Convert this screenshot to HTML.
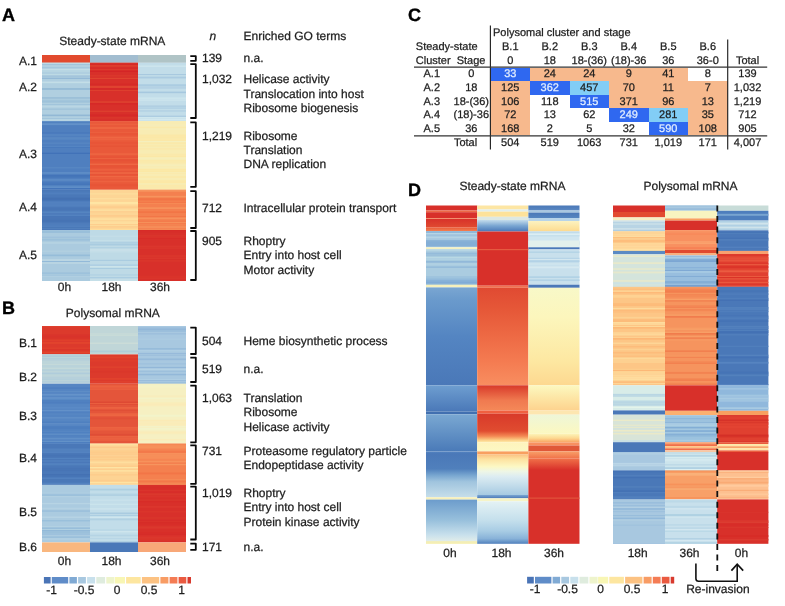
<!DOCTYPE html>
<html><head><meta charset="utf-8"><style>
html,body{margin:0;padding:0;background:#fff;}
body{width:785px;height:606px;overflow:hidden;}
svg{display:block;font-family:"Liberation Sans",sans-serif;-webkit-font-smoothing:antialiased;will-change:transform;filter:blur(0.3px);}
text{text-rendering:geometricPrecision;}
</style></head><body>
<svg width="785" height="606" viewBox="0 0 785 606">
<defs><linearGradient id="g1" x1="0" y1="0" x2="0" y2="1"><stop offset="0.000" stop-color="#d8322a"/><stop offset="1.000" stop-color="#e04a30"/></linearGradient>
<linearGradient id="g2" x1="0" y1="0" x2="0" y2="1"><stop offset="0.000" stop-color="#e85a38"/><stop offset="1.000" stop-color="#f47e50"/></linearGradient>
<linearGradient id="g3" x1="0" y1="0" x2="0" y2="1"><stop offset="0.000" stop-color="#7aa6d2"/><stop offset="0.130" stop-color="#6a9acc"/><stop offset="0.500" stop-color="#5485c2"/><stop offset="1.000" stop-color="#4a78b8"/></linearGradient>
<linearGradient id="g4" x1="0" y1="0" x2="0" y2="1"><stop offset="0.000" stop-color="#6e9ed0"/><stop offset="1.000" stop-color="#4a78b8"/></linearGradient>
<linearGradient id="g5" x1="0" y1="0" x2="0" y2="1"><stop offset="0.000" stop-color="#7aa8d2"/><stop offset="1.000" stop-color="#4a7ab8"/></linearGradient>
<linearGradient id="g6" x1="0" y1="0" x2="0" y2="1"><stop offset="0.000" stop-color="#5484c0"/><stop offset="0.050" stop-color="#4a78b8"/><stop offset="0.380" stop-color="#5080bc"/><stop offset="0.520" stop-color="#78a6d0"/><stop offset="0.660" stop-color="#a0c4de"/><stop offset="1.000" stop-color="#c6deea"/></linearGradient>
<linearGradient id="g7" x1="0" y1="0" x2="0" y2="1"><stop offset="0.000" stop-color="#6c9ccc"/><stop offset="0.500" stop-color="#98c0dc"/><stop offset="0.850" stop-color="#c8e0ec"/><stop offset="1.000" stop-color="#e0ecea"/></linearGradient>
<linearGradient id="g8" x1="0" y1="0" x2="0" y2="1"><stop offset="0.000" stop-color="#f0eec0"/><stop offset="1.000" stop-color="#f6eeaa"/></linearGradient>
<linearGradient id="g9" x1="0" y1="0" x2="0" y2="1"><stop offset="0.000" stop-color="#c4dcec"/><stop offset="0.500" stop-color="#7aa6d2"/><stop offset="1.000" stop-color="#4a78b8"/></linearGradient>
<linearGradient id="g10" x1="0" y1="0" x2="0" y2="1"><stop offset="0.000" stop-color="#e04a32"/><stop offset="0.230" stop-color="#e65838"/><stop offset="0.740" stop-color="#f47a50"/><stop offset="1.000" stop-color="#f88e60"/></linearGradient>
<linearGradient id="g11" x1="0" y1="0" x2="0" y2="1"><stop offset="0.000" stop-color="#d83a2a"/><stop offset="0.600" stop-color="#f07a50"/><stop offset="1.000" stop-color="#f48858"/></linearGradient>
<linearGradient id="g12" x1="0" y1="0" x2="0" y2="1"><stop offset="0.000" stop-color="#d83a2a"/><stop offset="1.000" stop-color="#e04c30"/></linearGradient>
<linearGradient id="g13" x1="0" y1="0" x2="0" y2="1"><stop offset="0.000" stop-color="#e04c30"/><stop offset="0.450" stop-color="#f48a55"/><stop offset="0.750" stop-color="#fbc880"/><stop offset="1.000" stop-color="#fef0b0"/></linearGradient>
<linearGradient id="g14" x1="0" y1="0" x2="0" y2="1"><stop offset="0.000" stop-color="#fef4bc"/><stop offset="1.000" stop-color="#fcf8c4"/></linearGradient>
<linearGradient id="g15" x1="0" y1="0" x2="0" y2="1"><stop offset="0.000" stop-color="#fbc080"/><stop offset="0.120" stop-color="#fde2a0"/><stop offset="0.300" stop-color="#fcf8c4"/><stop offset="0.420" stop-color="#eef6e6"/><stop offset="0.550" stop-color="#dcecf2"/><stop offset="1.000" stop-color="#a6cae2"/></linearGradient>
<linearGradient id="g16" x1="0" y1="0" x2="0" y2="1"><stop offset="0.000" stop-color="#7aa6d2"/><stop offset="1.000" stop-color="#4a78b8"/></linearGradient>
<linearGradient id="g17" x1="0" y1="0" x2="0" y2="1"><stop offset="0.000" stop-color="#e4f2f4"/><stop offset="0.450" stop-color="#c4dfec"/><stop offset="0.700" stop-color="#a8cce4"/><stop offset="0.880" stop-color="#88b2d8"/><stop offset="1.000" stop-color="#5080bc"/></linearGradient>
<linearGradient id="g18" x1="0" y1="0" x2="0" y2="1"><stop offset="0.000" stop-color="#4a78b8"/><stop offset="1.000" stop-color="#5a88c2"/></linearGradient>
<linearGradient id="g19" x1="0" y1="0" x2="0" y2="1"><stop offset="0.000" stop-color="#4a78b8"/><stop offset="1.000" stop-color="#5686c0"/></linearGradient>
<linearGradient id="g20" x1="0" y1="0" x2="0" y2="1"><stop offset="0.000" stop-color="#fcf2c0"/><stop offset="0.700" stop-color="#fde29c"/><stop offset="1.000" stop-color="#fdd890"/></linearGradient>
<linearGradient id="g21" x1="0" y1="0" x2="0" y2="1"><stop offset="0.000" stop-color="#f8f8c8"/><stop offset="0.300" stop-color="#fcf6bc"/><stop offset="0.740" stop-color="#fde8a2"/><stop offset="1.000" stop-color="#fdd890"/></linearGradient>
<linearGradient id="g22" x1="0" y1="0" x2="0" y2="1"><stop offset="0.000" stop-color="#fcf8c0"/><stop offset="0.600" stop-color="#fde2a0"/><stop offset="1.000" stop-color="#fdd28e"/></linearGradient>
<linearGradient id="g23" x1="0" y1="0" x2="0" y2="1"><stop offset="0.000" stop-color="#eef6d8"/><stop offset="1.000" stop-color="#fcf8c0"/></linearGradient>
<linearGradient id="g24" x1="0" y1="0" x2="0" y2="1"><stop offset="0.000" stop-color="#fcf4b8"/><stop offset="0.500" stop-color="#fdd890"/><stop offset="1.000" stop-color="#f8a060"/></linearGradient>
<linearGradient id="g25" x1="0" y1="0" x2="0" y2="1"><stop offset="0.000" stop-color="#f8a068"/><stop offset="1.000" stop-color="#f07048"/></linearGradient>
<linearGradient id="g26" x1="0" y1="0" x2="0" y2="1"><stop offset="0.000" stop-color="#f07048"/><stop offset="1.000" stop-color="#d8302a"/></linearGradient></defs>
<rect width="785" height="606" fill="#fff"/>
<rect x="42.00" y="55.00" width="48.00" height="7.80" fill="#e24a2e"/>
<rect x="90.00" y="55.00" width="48.00" height="7.80" fill="#a2bdd0"/>
<rect x="138.00" y="55.00" width="48.00" height="7.80" fill="#b0c4c6"/>
<rect x="42.00" y="62.80" width="48.00" height="58.25" fill="#b0cfe0"/>
<rect x="42.00" y="62.80" width="48.00" height="1.19" fill="#bfdbe6"/>
<rect x="42.00" y="63.99" width="48.00" height="1.44" fill="#a2c4db"/>
<rect x="42.00" y="65.43" width="48.00" height="0.84" fill="#b9d6e3"/>
<rect x="42.00" y="67.59" width="48.00" height="0.95" fill="#97bcd7"/>
<rect x="42.00" y="68.53" width="48.00" height="1.49" fill="#c3dee7"/>
<rect x="42.00" y="70.03" width="48.00" height="1.83" fill="#b9d6e3"/>
<rect x="42.00" y="74.04" width="48.00" height="1.57" fill="#bedae5"/>
<rect x="42.00" y="75.61" width="48.00" height="0.87" fill="#96bbd6"/>
<rect x="42.00" y="77.66" width="48.00" height="1.34" fill="#94b9d6"/>
<rect x="42.00" y="81.53" width="48.00" height="1.68" fill="#c3dee7"/>
<rect x="42.00" y="88.05" width="48.00" height="1.85" fill="#96bbd6"/>
<rect x="42.00" y="97.02" width="48.00" height="1.79" fill="#9cbfd8"/>
<rect x="42.00" y="99.64" width="48.00" height="1.00" fill="#a2c4db"/>
<rect x="42.00" y="100.64" width="48.00" height="0.96" fill="#9cbfd8"/>
<rect x="42.00" y="101.59" width="48.00" height="0.90" fill="#98bdd7"/>
<rect x="42.00" y="104.27" width="48.00" height="1.13" fill="#9cc0d9"/>
<rect x="42.00" y="105.41" width="48.00" height="1.95" fill="#bad6e4"/>
<rect x="42.00" y="108.44" width="48.00" height="1.51" fill="#a3c5db"/>
<rect x="42.00" y="114.55" width="48.00" height="1.61" fill="#92b8d5"/>
<rect x="42.00" y="118.01" width="48.00" height="1.27" fill="#a1c4db"/>
<rect x="42.00" y="119.28" width="48.00" height="0.87" fill="#bad7e4"/>
<rect x="42.00" y="120.16" width="48.00" height="0.89" fill="#b8d5e3"/>
<rect x="90.00" y="62.80" width="48.00" height="58.25" fill="#d8302a"/>
<rect x="90.00" y="62.80" width="48.00" height="0.92" fill="#dc392d"/>
<rect x="90.00" y="63.72" width="48.00" height="1.54" fill="#d52928"/>
<rect x="90.00" y="65.26" width="48.00" height="1.24" fill="#e04430"/>
<rect x="90.00" y="67.85" width="48.00" height="0.90" fill="#d52828"/>
<rect x="90.00" y="68.76" width="48.00" height="1.79" fill="#dc392d"/>
<rect x="90.00" y="70.55" width="48.00" height="1.43" fill="#d42627"/>
<rect x="90.00" y="75.26" width="48.00" height="1.11" fill="#dc3b2d"/>
<rect x="90.00" y="77.81" width="48.00" height="1.20" fill="#e04430"/>
<rect x="90.00" y="83.68" width="48.00" height="1.23" fill="#d62a28"/>
<rect x="90.00" y="86.02" width="48.00" height="1.95" fill="#e04531"/>
<rect x="90.00" y="87.97" width="48.00" height="1.95" fill="#d52928"/>
<rect x="90.00" y="89.91" width="48.00" height="1.04" fill="#df412f"/>
<rect x="90.00" y="101.05" width="48.00" height="1.97" fill="#dd3e2e"/>
<rect x="90.00" y="103.01" width="48.00" height="1.67" fill="#d62a28"/>
<rect x="90.00" y="110.74" width="48.00" height="0.96" fill="#e04631"/>
<rect x="90.00" y="114.45" width="48.00" height="1.79" fill="#d52928"/>
<rect x="90.00" y="117.33" width="48.00" height="1.11" fill="#dc3b2d"/>
<rect x="138.00" y="62.80" width="48.00" height="58.25" fill="#c2dde9"/>
<rect x="138.00" y="65.51" width="48.00" height="1.43" fill="#cee6ed"/>
<rect x="138.00" y="74.00" width="48.00" height="1.10" fill="#a8c9df"/>
<rect x="138.00" y="76.57" width="48.00" height="1.89" fill="#abcbe1"/>
<rect x="138.00" y="84.24" width="48.00" height="1.93" fill="#abcce1"/>
<rect x="138.00" y="86.17" width="48.00" height="1.81" fill="#b4d2e4"/>
<rect x="138.00" y="87.98" width="48.00" height="0.89" fill="#b4d3e4"/>
<rect x="138.00" y="91.59" width="48.00" height="1.59" fill="#a6c8df"/>
<rect x="138.00" y="97.51" width="48.00" height="0.99" fill="#cfe7ee"/>
<rect x="138.00" y="98.51" width="48.00" height="1.03" fill="#d1e8ef"/>
<rect x="138.00" y="99.54" width="48.00" height="1.46" fill="#cae3ec"/>
<rect x="138.00" y="105.18" width="48.00" height="0.93" fill="#b5d3e4"/>
<rect x="138.00" y="106.10" width="48.00" height="1.12" fill="#aecee2"/>
<rect x="138.00" y="107.23" width="48.00" height="1.78" fill="#b3d2e4"/>
<rect x="138.00" y="110.50" width="48.00" height="0.91" fill="#a9cae0"/>
<rect x="138.00" y="115.63" width="48.00" height="1.34" fill="#accce1"/>
<rect x="138.00" y="116.98" width="48.00" height="1.12" fill="#cfe7ee"/>
<rect x="138.00" y="118.10" width="48.00" height="0.93" fill="#cae3ec"/>
<rect x="138.00" y="119.03" width="48.00" height="1.17" fill="#d2e9ef"/>
<rect x="138.00" y="120.20" width="48.00" height="0.85" fill="#cde5ed"/>
<rect x="42.00" y="121.05" width="48.00" height="68.75" fill="#4f7fbf"/>
<rect x="42.00" y="121.05" width="48.00" height="1.10" fill="#6291c8"/>
<rect x="42.00" y="123.18" width="48.00" height="1.92" fill="#6392c9"/>
<rect x="42.00" y="132.25" width="48.00" height="1.29" fill="#4979bc"/>
<rect x="42.00" y="134.42" width="48.00" height="1.11" fill="#5989c4"/>
<rect x="42.00" y="137.37" width="48.00" height="1.14" fill="#5c8bc5"/>
<rect x="42.00" y="138.51" width="48.00" height="0.99" fill="#5c8bc5"/>
<rect x="42.00" y="142.56" width="48.00" height="1.17" fill="#5888c3"/>
<rect x="42.00" y="146.14" width="48.00" height="0.81" fill="#5989c4"/>
<rect x="42.00" y="146.95" width="48.00" height="0.85" fill="#4778bb"/>
<rect x="42.00" y="152.66" width="48.00" height="1.27" fill="#4172b8"/>
<rect x="42.00" y="167.26" width="48.00" height="1.08" fill="#5a89c4"/>
<rect x="42.00" y="172.28" width="48.00" height="1.39" fill="#6392c9"/>
<rect x="42.00" y="175.07" width="48.00" height="1.59" fill="#4374b9"/>
<rect x="42.00" y="176.66" width="48.00" height="0.89" fill="#4374b9"/>
<rect x="42.00" y="179.24" width="48.00" height="1.39" fill="#5f8ec7"/>
<rect x="42.00" y="182.35" width="48.00" height="1.57" fill="#4879bc"/>
<rect x="42.00" y="183.93" width="48.00" height="1.69" fill="#4576ba"/>
<rect x="42.00" y="185.62" width="48.00" height="0.87" fill="#6190c8"/>
<rect x="42.00" y="186.49" width="48.00" height="1.61" fill="#5f8ec7"/>
<rect x="42.00" y="188.10" width="48.00" height="1.36" fill="#4273b9"/>
<rect x="90.00" y="121.05" width="48.00" height="68.75" fill="#e9593a"/>
<rect x="90.00" y="123.65" width="48.00" height="1.34" fill="#ec613f"/>
<rect x="90.00" y="127.02" width="48.00" height="1.94" fill="#ee6642"/>
<rect x="90.00" y="131.90" width="48.00" height="1.38" fill="#eb5f3e"/>
<rect x="90.00" y="133.29" width="48.00" height="1.34" fill="#e75537"/>
<rect x="90.00" y="136.61" width="48.00" height="1.81" fill="#ef6743"/>
<rect x="90.00" y="138.41" width="48.00" height="1.88" fill="#ed6240"/>
<rect x="90.00" y="142.30" width="48.00" height="1.23" fill="#e75437"/>
<rect x="90.00" y="145.59" width="48.00" height="1.10" fill="#e65336"/>
<rect x="90.00" y="153.29" width="48.00" height="1.66" fill="#ee6542"/>
<rect x="90.00" y="156.65" width="48.00" height="1.14" fill="#e65135"/>
<rect x="90.00" y="157.80" width="48.00" height="1.37" fill="#ec613f"/>
<rect x="90.00" y="159.16" width="48.00" height="1.97" fill="#e65236"/>
<rect x="90.00" y="161.14" width="48.00" height="1.47" fill="#e75537"/>
<rect x="90.00" y="163.65" width="48.00" height="1.40" fill="#ef6743"/>
<rect x="90.00" y="165.05" width="48.00" height="1.34" fill="#e75537"/>
<rect x="90.00" y="166.39" width="48.00" height="1.21" fill="#e75437"/>
<rect x="90.00" y="169.08" width="48.00" height="1.70" fill="#ed6240"/>
<rect x="90.00" y="170.78" width="48.00" height="1.25" fill="#e75538"/>
<rect x="90.00" y="172.04" width="48.00" height="1.96" fill="#ed6341"/>
<rect x="90.00" y="174.00" width="48.00" height="1.84" fill="#e75437"/>
<rect x="90.00" y="175.83" width="48.00" height="1.28" fill="#ef6743"/>
<rect x="90.00" y="177.11" width="48.00" height="1.85" fill="#eb5f3e"/>
<rect x="90.00" y="180.83" width="48.00" height="1.50" fill="#ed6240"/>
<rect x="90.00" y="184.13" width="48.00" height="1.97" fill="#e75537"/>
<rect x="138.00" y="121.05" width="48.00" height="68.75" fill="#f8ecb3"/>
<rect x="138.00" y="124.33" width="48.00" height="1.57" fill="#f7edb8"/>
<rect x="138.00" y="127.46" width="48.00" height="0.93" fill="#fbe8a7"/>
<rect x="138.00" y="128.40" width="48.00" height="1.27" fill="#f6eeba"/>
<rect x="138.00" y="134.64" width="48.00" height="1.08" fill="#fce7a3"/>
<rect x="138.00" y="135.72" width="48.00" height="1.17" fill="#fbe8a8"/>
<rect x="138.00" y="136.89" width="48.00" height="1.30" fill="#fbe8a6"/>
<rect x="138.00" y="138.19" width="48.00" height="1.07" fill="#fbe9a9"/>
<rect x="138.00" y="139.26" width="48.00" height="1.62" fill="#fce8a5"/>
<rect x="138.00" y="140.88" width="48.00" height="1.41" fill="#f5efbd"/>
<rect x="138.00" y="142.29" width="48.00" height="1.78" fill="#fae9aa"/>
<rect x="138.00" y="145.23" width="48.00" height="1.39" fill="#fae9aa"/>
<rect x="138.00" y="148.22" width="48.00" height="0.98" fill="#fae9aa"/>
<rect x="138.00" y="149.20" width="48.00" height="0.97" fill="#faeaac"/>
<rect x="138.00" y="153.72" width="48.00" height="1.92" fill="#fae9ab"/>
<rect x="138.00" y="155.64" width="48.00" height="1.70" fill="#fbe8a6"/>
<rect x="138.00" y="157.34" width="48.00" height="1.25" fill="#f7eeb8"/>
<rect x="138.00" y="158.58" width="48.00" height="1.14" fill="#f6efbc"/>
<rect x="138.00" y="159.72" width="48.00" height="1.96" fill="#fbe9a9"/>
<rect x="138.00" y="161.68" width="48.00" height="1.79" fill="#faeaac"/>
<rect x="138.00" y="164.71" width="48.00" height="1.03" fill="#f6efbc"/>
<rect x="138.00" y="167.04" width="48.00" height="1.72" fill="#f7edb7"/>
<rect x="138.00" y="168.76" width="48.00" height="1.90" fill="#fce8a5"/>
<rect x="138.00" y="170.66" width="48.00" height="1.21" fill="#fce7a3"/>
<rect x="138.00" y="172.98" width="48.00" height="1.18" fill="#faeaad"/>
<rect x="138.00" y="176.06" width="48.00" height="1.93" fill="#fae9aa"/>
<rect x="138.00" y="179.94" width="48.00" height="1.26" fill="#fbe9a8"/>
<rect x="138.00" y="181.21" width="48.00" height="1.91" fill="#fce8a5"/>
<rect x="138.00" y="184.91" width="48.00" height="1.53" fill="#fbe9a9"/>
<rect x="138.00" y="186.43" width="48.00" height="1.74" fill="#fae9ab"/>
<rect x="138.00" y="188.17" width="48.00" height="1.10" fill="#faeaac"/>
<rect x="42.00" y="189.80" width="48.00" height="40.20" fill="#4a78b8"/>
<rect x="42.00" y="191.66" width="48.00" height="1.12" fill="#4f7ebd"/>
<rect x="42.00" y="192.78" width="48.00" height="1.65" fill="#507fbe"/>
<rect x="42.00" y="197.67" width="48.00" height="1.60" fill="#4471b2"/>
<rect x="42.00" y="199.27" width="48.00" height="1.48" fill="#4471b3"/>
<rect x="42.00" y="200.75" width="48.00" height="1.10" fill="#507fbd"/>
<rect x="42.00" y="201.85" width="48.00" height="1.49" fill="#5281bf"/>
<rect x="42.00" y="203.34" width="48.00" height="1.41" fill="#5584c1"/>
<rect x="42.00" y="204.75" width="48.00" height="1.99" fill="#5281bf"/>
<rect x="42.00" y="208.55" width="48.00" height="0.85" fill="#4774b5"/>
<rect x="42.00" y="211.36" width="48.00" height="1.92" fill="#5585c1"/>
<rect x="42.00" y="214.39" width="48.00" height="1.93" fill="#5382c0"/>
<rect x="42.00" y="216.33" width="48.00" height="1.06" fill="#4774b5"/>
<rect x="42.00" y="218.49" width="48.00" height="1.58" fill="#4775b6"/>
<rect x="42.00" y="220.07" width="48.00" height="1.61" fill="#4673b4"/>
<rect x="42.00" y="223.44" width="48.00" height="0.88" fill="#5281be"/>
<rect x="42.00" y="224.32" width="48.00" height="1.57" fill="#507fbd"/>
<rect x="42.00" y="225.89" width="48.00" height="1.29" fill="#5180be"/>
<rect x="42.00" y="228.35" width="48.00" height="1.23" fill="#5584c1"/>
<rect x="42.00" y="229.58" width="48.00" height="0.42" fill="#4471b3"/>
<rect x="90.00" y="189.80" width="48.00" height="40.20" fill="#fdd595"/>
<rect x="90.00" y="193.20" width="48.00" height="1.35" fill="#fddc9c"/>
<rect x="90.00" y="198.28" width="48.00" height="0.98" fill="#fee1a1"/>
<rect x="90.00" y="201.95" width="48.00" height="1.04" fill="#fee5a5"/>
<rect x="90.00" y="202.98" width="48.00" height="1.38" fill="#fee4a4"/>
<rect x="90.00" y="206.25" width="48.00" height="1.79" fill="#fdcd8d"/>
<rect x="90.00" y="209.32" width="48.00" height="1.80" fill="#fdde9e"/>
<rect x="90.00" y="211.12" width="48.00" height="1.42" fill="#fdd090"/>
<rect x="90.00" y="215.06" width="48.00" height="1.71" fill="#fdcc8c"/>
<rect x="90.00" y="218.29" width="48.00" height="1.55" fill="#fee0a0"/>
<rect x="90.00" y="221.15" width="48.00" height="1.34" fill="#fddc9c"/>
<rect x="90.00" y="222.49" width="48.00" height="1.39" fill="#fee3a3"/>
<rect x="90.00" y="223.88" width="48.00" height="1.35" fill="#fdce8e"/>
<rect x="90.00" y="225.23" width="48.00" height="0.95" fill="#fddc9c"/>
<rect x="90.00" y="226.18" width="48.00" height="1.41" fill="#fdcd8d"/>
<rect x="90.00" y="229.27" width="48.00" height="0.73" fill="#fee0a0"/>
<rect x="138.00" y="189.80" width="48.00" height="40.20" fill="#f4804f"/>
<rect x="138.00" y="189.80" width="48.00" height="1.94" fill="#f7945e"/>
<rect x="138.00" y="195.84" width="48.00" height="1.90" fill="#f7935d"/>
<rect x="138.00" y="197.74" width="48.00" height="0.88" fill="#f27547"/>
<rect x="138.00" y="198.62" width="48.00" height="1.88" fill="#f27446"/>
<rect x="138.00" y="201.90" width="48.00" height="1.05" fill="#f37748"/>
<rect x="138.00" y="202.95" width="48.00" height="0.84" fill="#f68b57"/>
<rect x="138.00" y="207.35" width="48.00" height="1.56" fill="#f7945e"/>
<rect x="138.00" y="211.33" width="48.00" height="1.56" fill="#f27446"/>
<rect x="138.00" y="216.11" width="48.00" height="1.33" fill="#f27547"/>
<rect x="138.00" y="217.44" width="48.00" height="1.78" fill="#f7915c"/>
<rect x="138.00" y="220.73" width="48.00" height="1.18" fill="#f37a4b"/>
<rect x="138.00" y="221.90" width="48.00" height="1.54" fill="#f6905a"/>
<rect x="138.00" y="223.44" width="48.00" height="0.96" fill="#f27547"/>
<rect x="138.00" y="224.40" width="48.00" height="0.80" fill="#f68a56"/>
<rect x="138.00" y="226.27" width="48.00" height="1.51" fill="#f7915c"/>
<rect x="138.00" y="228.74" width="48.00" height="1.09" fill="#f68a56"/>
<rect x="42.00" y="230.00" width="48.00" height="51.00" fill="#abcbdf"/>
<rect x="42.00" y="230.00" width="48.00" height="1.28" fill="#a0c3dc"/>
<rect x="42.00" y="231.28" width="48.00" height="1.47" fill="#95bcd9"/>
<rect x="42.00" y="236.63" width="48.00" height="1.29" fill="#9fc2dc"/>
<rect x="42.00" y="238.73" width="48.00" height="1.93" fill="#9cc1db"/>
<rect x="42.00" y="242.07" width="48.00" height="1.78" fill="#b5d2e2"/>
<rect x="42.00" y="250.64" width="48.00" height="1.07" fill="#b4d1e1"/>
<rect x="42.00" y="254.55" width="48.00" height="1.65" fill="#96bdd9"/>
<rect x="42.00" y="259.06" width="48.00" height="1.96" fill="#bbd6e3"/>
<rect x="42.00" y="261.02" width="48.00" height="1.11" fill="#93bad9"/>
<rect x="42.00" y="262.13" width="48.00" height="1.70" fill="#bbd6e3"/>
<rect x="42.00" y="272.40" width="48.00" height="1.48" fill="#9cc1db"/>
<rect x="42.00" y="274.78" width="48.00" height="0.97" fill="#9ec2db"/>
<rect x="42.00" y="275.75" width="48.00" height="1.21" fill="#b2d0e1"/>
<rect x="90.00" y="230.00" width="48.00" height="51.00" fill="#bedae6"/>
<rect x="90.00" y="235.80" width="48.00" height="0.93" fill="#c5dfe8"/>
<rect x="90.00" y="240.10" width="48.00" height="1.56" fill="#c5dfe8"/>
<rect x="90.00" y="241.66" width="48.00" height="1.71" fill="#afd0e2"/>
<rect x="90.00" y="243.37" width="48.00" height="0.83" fill="#afd0e2"/>
<rect x="90.00" y="244.19" width="48.00" height="1.24" fill="#a5c9df"/>
<rect x="90.00" y="247.26" width="48.00" height="0.84" fill="#adcfe1"/>
<rect x="90.00" y="249.31" width="48.00" height="1.45" fill="#cce3ea"/>
<rect x="90.00" y="250.76" width="48.00" height="1.78" fill="#c4dee8"/>
<rect x="90.00" y="259.80" width="48.00" height="1.14" fill="#a9cce0"/>
<rect x="90.00" y="264.41" width="48.00" height="1.55" fill="#aecfe2"/>
<rect x="90.00" y="265.96" width="48.00" height="1.87" fill="#cce4ea"/>
<rect x="90.00" y="267.83" width="48.00" height="1.05" fill="#a6cae0"/>
<rect x="90.00" y="274.35" width="48.00" height="1.22" fill="#b1d2e3"/>
<rect x="90.00" y="277.17" width="48.00" height="1.00" fill="#a8cbe0"/>
<rect x="90.00" y="279.12" width="48.00" height="1.86" fill="#c6dfe8"/>
<rect x="138.00" y="230.00" width="48.00" height="51.00" fill="#d8302a"/>
<rect x="138.00" y="230.00" width="48.00" height="0.99" fill="#d72d29"/>
<rect x="138.00" y="230.99" width="48.00" height="1.43" fill="#d72d29"/>
<rect x="138.00" y="235.30" width="48.00" height="0.92" fill="#db382d"/>
<rect x="138.00" y="236.23" width="48.00" height="1.68" fill="#da342c"/>
<rect x="138.00" y="237.91" width="48.00" height="0.93" fill="#d72d29"/>
<rect x="138.00" y="245.56" width="48.00" height="1.89" fill="#db362d"/>
<rect x="138.00" y="247.45" width="48.00" height="1.31" fill="#db372d"/>
<rect x="138.00" y="255.05" width="48.00" height="0.92" fill="#db372d"/>
<rect x="138.00" y="255.97" width="48.00" height="1.56" fill="#da362c"/>
<rect x="138.00" y="257.53" width="48.00" height="1.55" fill="#db372d"/>
<rect x="138.00" y="260.09" width="48.00" height="1.73" fill="#da362c"/>
<rect x="138.00" y="275.73" width="48.00" height="1.23" fill="#da352c"/>
<rect x="138.00" y="276.96" width="48.00" height="0.82" fill="#da362c"/>
<rect x="138.00" y="277.78" width="48.00" height="1.22" fill="#da352c"/>
<rect x="42.00" y="326.00" width="48.00" height="28.40" fill="#dc3a2c"/>
<rect x="42.00" y="326.00" width="48.00" height="1.27" fill="#df402d"/>
<rect x="42.00" y="334.48" width="48.00" height="1.36" fill="#d9352b"/>
<rect x="42.00" y="335.84" width="48.00" height="1.80" fill="#d8332b"/>
<rect x="42.00" y="337.64" width="48.00" height="1.25" fill="#d9352b"/>
<rect x="42.00" y="339.70" width="48.00" height="1.14" fill="#e0412d"/>
<rect x="42.00" y="342.15" width="48.00" height="1.59" fill="#e3452e"/>
<rect x="42.00" y="347.47" width="48.00" height="1.56" fill="#df3f2d"/>
<rect x="42.00" y="349.03" width="48.00" height="1.59" fill="#da372b"/>
<rect x="42.00" y="351.69" width="48.00" height="1.22" fill="#e2452e"/>
<rect x="90.00" y="326.00" width="48.00" height="28.40" fill="#c0d6d8"/>
<rect x="90.00" y="333.15" width="48.00" height="1.47" fill="#c7dad8"/>
<rect x="90.00" y="334.61" width="48.00" height="1.39" fill="#c8dbd8"/>
<rect x="90.00" y="342.61" width="48.00" height="1.25" fill="#ccddd8"/>
<rect x="90.00" y="350.49" width="48.00" height="1.88" fill="#afccd8"/>
<rect x="138.00" y="326.00" width="48.00" height="28.40" fill="#a8c8e0"/>
<rect x="138.00" y="327.43" width="48.00" height="1.05" fill="#98bcda"/>
<rect x="138.00" y="328.48" width="48.00" height="1.79" fill="#93b7d8"/>
<rect x="138.00" y="330.28" width="48.00" height="1.40" fill="#97bbda"/>
<rect x="138.00" y="333.27" width="48.00" height="1.20" fill="#9abddb"/>
<rect x="138.00" y="338.74" width="48.00" height="0.86" fill="#aecde2"/>
<rect x="138.00" y="348.16" width="48.00" height="1.62" fill="#95b9d9"/>
<rect x="138.00" y="349.77" width="48.00" height="1.72" fill="#afcee3"/>
<rect x="138.00" y="353.22" width="48.00" height="1.18" fill="#93b7d8"/>
<rect x="42.00" y="354.40" width="48.00" height="29.30" fill="#bdd5da"/>
<rect x="42.00" y="354.40" width="48.00" height="1.47" fill="#b3cfdb"/>
<rect x="42.00" y="355.87" width="48.00" height="1.18" fill="#afccdb"/>
<rect x="42.00" y="357.92" width="48.00" height="0.85" fill="#adcbdc"/>
<rect x="42.00" y="358.77" width="48.00" height="1.90" fill="#b6d0db"/>
<rect x="42.00" y="364.16" width="48.00" height="1.29" fill="#c5dad9"/>
<rect x="42.00" y="365.45" width="48.00" height="0.98" fill="#b6d1db"/>
<rect x="42.00" y="368.29" width="48.00" height="0.95" fill="#c6dbd9"/>
<rect x="42.00" y="369.24" width="48.00" height="1.68" fill="#b5d0db"/>
<rect x="42.00" y="372.58" width="48.00" height="1.68" fill="#afccdb"/>
<rect x="42.00" y="376.71" width="48.00" height="1.66" fill="#b6d0db"/>
<rect x="42.00" y="378.37" width="48.00" height="1.78" fill="#b3cfdb"/>
<rect x="42.00" y="381.15" width="48.00" height="1.38" fill="#b2cedb"/>
<rect x="90.00" y="354.40" width="48.00" height="29.30" fill="#dc3a2c"/>
<rect x="90.00" y="356.61" width="48.00" height="1.56" fill="#e0422e"/>
<rect x="90.00" y="360.10" width="48.00" height="1.48" fill="#df3f2d"/>
<rect x="90.00" y="366.39" width="48.00" height="1.52" fill="#e0422e"/>
<rect x="90.00" y="370.69" width="48.00" height="1.77" fill="#da372b"/>
<rect x="90.00" y="378.17" width="48.00" height="1.49" fill="#e2452e"/>
<rect x="90.00" y="381.28" width="48.00" height="1.22" fill="#e1432e"/>
<rect x="90.00" y="383.53" width="48.00" height="0.17" fill="#e1432e"/>
<rect x="138.00" y="354.40" width="48.00" height="29.30" fill="#a8c8e0"/>
<rect x="138.00" y="354.40" width="48.00" height="1.36" fill="#9bbedb"/>
<rect x="138.00" y="358.41" width="48.00" height="1.73" fill="#96bada"/>
<rect x="138.00" y="363.37" width="48.00" height="1.03" fill="#9cbedc"/>
<rect x="138.00" y="366.92" width="48.00" height="0.98" fill="#90b5d8"/>
<rect x="138.00" y="368.83" width="48.00" height="1.74" fill="#b3d1e4"/>
<rect x="138.00" y="370.57" width="48.00" height="1.42" fill="#9ec0dc"/>
<rect x="138.00" y="373.83" width="48.00" height="1.48" fill="#93b8d9"/>
<rect x="138.00" y="379.03" width="48.00" height="1.10" fill="#afcee3"/>
<rect x="138.00" y="380.14" width="48.00" height="0.90" fill="#97bada"/>
<rect x="138.00" y="382.39" width="48.00" height="1.31" fill="#96bada"/>
<rect x="42.00" y="383.70" width="48.00" height="60.00" fill="#5686c3"/>
<rect x="42.00" y="387.32" width="48.00" height="1.60" fill="#4f80c0"/>
<rect x="42.00" y="390.88" width="48.00" height="1.07" fill="#5f8ec7"/>
<rect x="42.00" y="393.83" width="48.00" height="1.80" fill="#6593ca"/>
<rect x="42.00" y="397.21" width="48.00" height="0.87" fill="#6593ca"/>
<rect x="42.00" y="398.08" width="48.00" height="1.61" fill="#6392c9"/>
<rect x="42.00" y="399.69" width="48.00" height="0.93" fill="#5081c0"/>
<rect x="42.00" y="400.62" width="48.00" height="1.38" fill="#5081c1"/>
<rect x="42.00" y="402.00" width="48.00" height="1.61" fill="#4e7ebf"/>
<rect x="42.00" y="407.36" width="48.00" height="0.97" fill="#5e8dc7"/>
<rect x="42.00" y="410.14" width="48.00" height="1.34" fill="#6594ca"/>
<rect x="42.00" y="411.48" width="48.00" height="1.55" fill="#5181c1"/>
<rect x="42.00" y="415.66" width="48.00" height="1.12" fill="#5181c1"/>
<rect x="42.00" y="416.78" width="48.00" height="1.81" fill="#5f8ec7"/>
<rect x="42.00" y="421.58" width="48.00" height="1.60" fill="#4f80c0"/>
<rect x="42.00" y="423.18" width="48.00" height="1.11" fill="#618fc8"/>
<rect x="42.00" y="426.29" width="48.00" height="0.92" fill="#4c7dbf"/>
<rect x="42.00" y="427.20" width="48.00" height="1.67" fill="#4c7dbe"/>
<rect x="42.00" y="428.88" width="48.00" height="1.77" fill="#5182c1"/>
<rect x="42.00" y="432.44" width="48.00" height="1.02" fill="#4c7dbf"/>
<rect x="42.00" y="433.47" width="48.00" height="1.49" fill="#5f8ec7"/>
<rect x="42.00" y="434.95" width="48.00" height="1.65" fill="#5182c1"/>
<rect x="42.00" y="438.14" width="48.00" height="1.13" fill="#6392c9"/>
<rect x="42.00" y="441.04" width="48.00" height="1.04" fill="#6493c9"/>
<rect x="42.00" y="442.08" width="48.00" height="1.62" fill="#4d7ebf"/>
<rect x="90.00" y="383.70" width="48.00" height="60.00" fill="#e4553a"/>
<rect x="90.00" y="385.51" width="48.00" height="1.39" fill="#ee6643"/>
<rect x="90.00" y="386.90" width="48.00" height="1.85" fill="#e95e3f"/>
<rect x="90.00" y="388.75" width="48.00" height="1.24" fill="#ea6040"/>
<rect x="90.00" y="401.53" width="48.00" height="1.44" fill="#de4a34"/>
<rect x="90.00" y="402.98" width="48.00" height="1.02" fill="#ea5f3f"/>
<rect x="90.00" y="403.99" width="48.00" height="0.84" fill="#df4c35"/>
<rect x="90.00" y="407.14" width="48.00" height="1.64" fill="#ed6543"/>
<rect x="90.00" y="408.79" width="48.00" height="0.85" fill="#eb6141"/>
<rect x="90.00" y="409.64" width="48.00" height="1.14" fill="#e04e36"/>
<rect x="90.00" y="413.26" width="48.00" height="1.70" fill="#ed6542"/>
<rect x="90.00" y="414.96" width="48.00" height="1.27" fill="#ed6542"/>
<rect x="90.00" y="417.50" width="48.00" height="1.73" fill="#e14f37"/>
<rect x="90.00" y="426.91" width="48.00" height="1.10" fill="#ec6341"/>
<rect x="90.00" y="428.01" width="48.00" height="1.44" fill="#eb6140"/>
<rect x="90.00" y="429.45" width="48.00" height="0.82" fill="#ee6743"/>
<rect x="90.00" y="433.97" width="48.00" height="1.86" fill="#df4d36"/>
<rect x="90.00" y="435.83" width="48.00" height="1.61" fill="#eb6241"/>
<rect x="90.00" y="437.45" width="48.00" height="1.55" fill="#eb6241"/>
<rect x="90.00" y="438.99" width="48.00" height="1.94" fill="#ea5f3f"/>
<rect x="138.00" y="383.70" width="48.00" height="60.00" fill="#f6f0c2"/>
<rect x="138.00" y="384.82" width="48.00" height="1.44" fill="#f4f2c6"/>
<rect x="138.00" y="386.26" width="48.00" height="1.15" fill="#f4f2c7"/>
<rect x="138.00" y="395.54" width="48.00" height="1.17" fill="#f9ecba"/>
<rect x="138.00" y="397.97" width="48.00" height="0.81" fill="#f3f4ca"/>
<rect x="138.00" y="402.55" width="48.00" height="0.99" fill="#fbeab4"/>
<rect x="138.00" y="403.54" width="48.00" height="0.87" fill="#faebb8"/>
<rect x="138.00" y="404.42" width="48.00" height="0.93" fill="#fce9b3"/>
<rect x="138.00" y="405.35" width="48.00" height="0.99" fill="#faecb9"/>
<rect x="138.00" y="414.80" width="48.00" height="1.90" fill="#f3f4ca"/>
<rect x="138.00" y="419.81" width="48.00" height="1.49" fill="#fbeab5"/>
<rect x="138.00" y="421.30" width="48.00" height="1.53" fill="#faebb8"/>
<rect x="138.00" y="422.83" width="48.00" height="1.67" fill="#faecb8"/>
<rect x="138.00" y="424.50" width="48.00" height="1.26" fill="#fbeab5"/>
<rect x="138.00" y="425.76" width="48.00" height="1.40" fill="#f4f2c7"/>
<rect x="138.00" y="428.13" width="48.00" height="1.50" fill="#f3f4cb"/>
<rect x="138.00" y="431.44" width="48.00" height="1.95" fill="#faecb8"/>
<rect x="138.00" y="433.39" width="48.00" height="0.81" fill="#faebb7"/>
<rect x="138.00" y="438.98" width="48.00" height="1.62" fill="#faecb9"/>
<rect x="138.00" y="443.43" width="48.00" height="0.27" fill="#faecb8"/>
<rect x="42.00" y="443.70" width="48.00" height="41.20" fill="#4a78b8"/>
<rect x="42.00" y="448.47" width="48.00" height="2.00" fill="#5382bf"/>
<rect x="42.00" y="450.47" width="48.00" height="1.00" fill="#5685c2"/>
<rect x="42.00" y="451.47" width="48.00" height="1.42" fill="#5585c2"/>
<rect x="42.00" y="454.67" width="48.00" height="1.87" fill="#4674b5"/>
<rect x="42.00" y="457.95" width="48.00" height="1.03" fill="#5383c0"/>
<rect x="42.00" y="460.20" width="48.00" height="1.56" fill="#5281bf"/>
<rect x="42.00" y="462.94" width="48.00" height="0.80" fill="#5584c1"/>
<rect x="42.00" y="463.74" width="48.00" height="1.60" fill="#5282bf"/>
<rect x="42.00" y="467.90" width="48.00" height="1.49" fill="#4774b5"/>
<rect x="42.00" y="469.39" width="48.00" height="1.71" fill="#4774b5"/>
<rect x="42.00" y="474.06" width="48.00" height="0.87" fill="#4471b3"/>
<rect x="42.00" y="474.94" width="48.00" height="1.66" fill="#4674b5"/>
<rect x="42.00" y="477.51" width="48.00" height="1.50" fill="#5281bf"/>
<rect x="42.00" y="482.71" width="48.00" height="1.10" fill="#5585c2"/>
<rect x="90.00" y="443.70" width="48.00" height="41.20" fill="#fdd393"/>
<rect x="90.00" y="443.70" width="48.00" height="1.78" fill="#fee1a1"/>
<rect x="90.00" y="446.87" width="48.00" height="1.09" fill="#fdca8a"/>
<rect x="90.00" y="450.52" width="48.00" height="1.09" fill="#fdcc8c"/>
<rect x="90.00" y="451.61" width="48.00" height="1.97" fill="#fdcb8b"/>
<rect x="90.00" y="453.58" width="48.00" height="1.44" fill="#fdcc8c"/>
<rect x="90.00" y="455.96" width="48.00" height="1.22" fill="#fdcd8d"/>
<rect x="90.00" y="457.19" width="48.00" height="1.08" fill="#fdca8a"/>
<rect x="90.00" y="459.26" width="48.00" height="0.91" fill="#fdc989"/>
<rect x="90.00" y="461.50" width="48.00" height="1.77" fill="#fede9e"/>
<rect x="90.00" y="465.57" width="48.00" height="1.41" fill="#fdcc8c"/>
<rect x="90.00" y="466.97" width="48.00" height="1.65" fill="#fee4a4"/>
<rect x="90.00" y="468.62" width="48.00" height="1.24" fill="#fdcb8b"/>
<rect x="90.00" y="469.86" width="48.00" height="1.85" fill="#fee0a0"/>
<rect x="90.00" y="474.10" width="48.00" height="1.48" fill="#fdcc8c"/>
<rect x="90.00" y="479.94" width="48.00" height="1.16" fill="#fdcd8d"/>
<rect x="90.00" y="482.05" width="48.00" height="1.14" fill="#fee4a4"/>
<rect x="138.00" y="443.70" width="48.00" height="41.20" fill="#f4804f"/>
<rect x="138.00" y="443.70" width="48.00" height="0.96" fill="#f58956"/>
<rect x="138.00" y="444.66" width="48.00" height="1.60" fill="#f68e59"/>
<rect x="138.00" y="446.25" width="48.00" height="1.64" fill="#f7945e"/>
<rect x="138.00" y="447.89" width="48.00" height="1.55" fill="#f68a57"/>
<rect x="138.00" y="451.13" width="48.00" height="0.85" fill="#f3794a"/>
<rect x="138.00" y="451.98" width="48.00" height="1.16" fill="#f37a4b"/>
<rect x="138.00" y="453.14" width="48.00" height="1.57" fill="#f7945e"/>
<rect x="138.00" y="454.71" width="48.00" height="1.66" fill="#f68f5a"/>
<rect x="138.00" y="456.37" width="48.00" height="1.22" fill="#f7945e"/>
<rect x="138.00" y="457.59" width="48.00" height="1.14" fill="#f7945e"/>
<rect x="138.00" y="458.73" width="48.00" height="0.86" fill="#f68a57"/>
<rect x="138.00" y="460.64" width="48.00" height="1.70" fill="#f7925c"/>
<rect x="138.00" y="464.04" width="48.00" height="1.14" fill="#f7955f"/>
<rect x="138.00" y="472.51" width="48.00" height="1.91" fill="#f27547"/>
<rect x="138.00" y="479.14" width="48.00" height="1.45" fill="#f58a56"/>
<rect x="138.00" y="480.59" width="48.00" height="1.29" fill="#f37849"/>
<rect x="138.00" y="483.54" width="48.00" height="1.09" fill="#f6905a"/>
<rect x="138.00" y="484.62" width="48.00" height="0.28" fill="#f68d58"/>
<rect x="42.00" y="484.90" width="48.00" height="57.50" fill="#abcbe0"/>
<rect x="42.00" y="492.77" width="48.00" height="0.94" fill="#b5d2e3"/>
<rect x="42.00" y="493.71" width="48.00" height="0.87" fill="#9cc1dc"/>
<rect x="42.00" y="494.58" width="48.00" height="1.34" fill="#9abfdb"/>
<rect x="42.00" y="495.92" width="48.00" height="1.24" fill="#b2d0e2"/>
<rect x="42.00" y="502.95" width="48.00" height="1.32" fill="#b7d4e4"/>
<rect x="42.00" y="507.73" width="48.00" height="1.58" fill="#b4d1e3"/>
<rect x="42.00" y="510.14" width="48.00" height="1.81" fill="#9dc1dc"/>
<rect x="42.00" y="516.57" width="48.00" height="1.19" fill="#bad6e5"/>
<rect x="42.00" y="520.24" width="48.00" height="1.09" fill="#96bdda"/>
<rect x="42.00" y="526.39" width="48.00" height="0.99" fill="#b8d4e4"/>
<rect x="42.00" y="527.38" width="48.00" height="1.63" fill="#98beda"/>
<rect x="42.00" y="529.01" width="48.00" height="0.91" fill="#b6d3e3"/>
<rect x="42.00" y="529.92" width="48.00" height="1.67" fill="#92b9d8"/>
<rect x="42.00" y="531.58" width="48.00" height="1.74" fill="#9bc0db"/>
<rect x="42.00" y="533.33" width="48.00" height="1.42" fill="#9abfdb"/>
<rect x="42.00" y="536.34" width="48.00" height="1.88" fill="#9bc0db"/>
<rect x="42.00" y="538.23" width="48.00" height="1.48" fill="#b4d1e3"/>
<rect x="90.00" y="484.90" width="48.00" height="57.50" fill="#c2dde9"/>
<rect x="90.00" y="488.69" width="48.00" height="1.77" fill="#adcfe1"/>
<rect x="90.00" y="493.57" width="48.00" height="1.58" fill="#b3d2e3"/>
<rect x="90.00" y="495.14" width="48.00" height="0.83" fill="#adcfe1"/>
<rect x="90.00" y="499.42" width="48.00" height="1.48" fill="#c9e2ec"/>
<rect x="90.00" y="503.70" width="48.00" height="1.10" fill="#cde5ed"/>
<rect x="90.00" y="508.20" width="48.00" height="1.51" fill="#cce4ed"/>
<rect x="90.00" y="512.50" width="48.00" height="1.71" fill="#a9cbe0"/>
<rect x="90.00" y="515.13" width="48.00" height="1.27" fill="#a9cce0"/>
<rect x="90.00" y="516.40" width="48.00" height="1.73" fill="#cfe6ee"/>
<rect x="90.00" y="518.13" width="48.00" height="1.08" fill="#b8d6e5"/>
<rect x="90.00" y="519.21" width="48.00" height="1.06" fill="#adcee1"/>
<rect x="90.00" y="529.71" width="48.00" height="0.95" fill="#adcee1"/>
<rect x="90.00" y="530.66" width="48.00" height="1.67" fill="#cee5ed"/>
<rect x="90.00" y="534.72" width="48.00" height="1.61" fill="#b5d4e4"/>
<rect x="90.00" y="538.13" width="48.00" height="0.94" fill="#b6d5e5"/>
<rect x="90.00" y="541.24" width="48.00" height="1.16" fill="#aacce0"/>
<rect x="138.00" y="484.90" width="48.00" height="57.50" fill="#d8302a"/>
<rect x="138.00" y="486.53" width="48.00" height="1.94" fill="#d72d29"/>
<rect x="138.00" y="489.87" width="48.00" height="1.76" fill="#da342c"/>
<rect x="138.00" y="491.63" width="48.00" height="1.62" fill="#d72d29"/>
<rect x="138.00" y="493.24" width="48.00" height="1.81" fill="#db382d"/>
<rect x="138.00" y="495.06" width="48.00" height="0.89" fill="#da352c"/>
<rect x="138.00" y="495.95" width="48.00" height="1.51" fill="#da342c"/>
<rect x="138.00" y="498.82" width="48.00" height="1.27" fill="#d9332b"/>
<rect x="138.00" y="500.08" width="48.00" height="1.20" fill="#da362c"/>
<rect x="138.00" y="501.28" width="48.00" height="0.85" fill="#d62c28"/>
<rect x="138.00" y="505.81" width="48.00" height="1.99" fill="#db362d"/>
<rect x="138.00" y="511.21" width="48.00" height="1.24" fill="#db372d"/>
<rect x="138.00" y="517.23" width="48.00" height="1.56" fill="#da362c"/>
<rect x="138.00" y="518.79" width="48.00" height="0.87" fill="#da352c"/>
<rect x="138.00" y="519.66" width="48.00" height="1.38" fill="#d72d29"/>
<rect x="138.00" y="521.04" width="48.00" height="1.22" fill="#d9332b"/>
<rect x="138.00" y="522.26" width="48.00" height="1.34" fill="#d62c28"/>
<rect x="138.00" y="523.60" width="48.00" height="1.00" fill="#d72d29"/>
<rect x="138.00" y="526.28" width="48.00" height="1.92" fill="#db382d"/>
<rect x="138.00" y="528.20" width="48.00" height="0.90" fill="#db362d"/>
<rect x="138.00" y="532.52" width="48.00" height="1.88" fill="#d72d29"/>
<rect x="138.00" y="534.40" width="48.00" height="1.00" fill="#d62c28"/>
<rect x="138.00" y="535.40" width="48.00" height="1.28" fill="#db362d"/>
<rect x="138.00" y="536.68" width="48.00" height="1.58" fill="#db372d"/>
<rect x="138.00" y="538.25" width="48.00" height="1.52" fill="#db382d"/>
<rect x="138.00" y="539.78" width="48.00" height="1.21" fill="#da342c"/>
<rect x="42.00" y="542.40" width="48.00" height="9.60" fill="#f9b77f"/>
<rect x="90.00" y="542.40" width="48.00" height="9.60" fill="#4a78b8"/>
<rect x="138.00" y="542.40" width="48.00" height="9.60" fill="#f8a878"/>
<rect x="426.00" y="205.50" width="51.20" height="5.00" fill="#d8302a"/>
<rect x="426.00" y="210.50" width="51.20" height="1.70" fill="#ec6a48"/>
<rect x="426.00" y="212.20" width="51.20" height="5.80" fill="#d8302a"/>
<rect x="426.00" y="218.00" width="51.20" height="1.20" fill="#f29070"/>
<rect x="426.00" y="219.00" width="51.20" height="8.30" fill="url(#g1)"/>
<rect x="426.00" y="227.30" width="51.20" height="3.80" fill="url(#g2)"/>
<rect x="426.00" y="231.10" width="51.20" height="16.20" fill="#a6c8e0"/>
<rect x="426.00" y="231.10" width="51.20" height="1.91" fill="#91b8d9"/>
<rect x="426.00" y="233.01" width="51.20" height="1.58" fill="#b7d5e5"/>
<rect x="426.00" y="234.59" width="51.20" height="0.87" fill="#97bcdb"/>
<rect x="426.00" y="236.66" width="51.20" height="1.52" fill="#b4d3e5"/>
<rect x="426.00" y="240.08" width="51.20" height="1.99" fill="#8bb3d7"/>
<rect x="426.00" y="242.07" width="51.20" height="1.19" fill="#b0d0e3"/>
<rect x="426.00" y="243.26" width="51.20" height="1.72" fill="#87b0d6"/>
<rect x="426.00" y="247.30" width="51.20" height="2.10" fill="#f4f0c0"/>
<rect x="426.00" y="249.40" width="51.20" height="35.30" fill="#aacce0"/>
<rect x="426.00" y="249.40" width="51.20" height="1.52" fill="#b7d6e4"/>
<rect x="426.00" y="252.58" width="51.20" height="1.73" fill="#94bbda"/>
<rect x="426.00" y="254.31" width="51.20" height="1.34" fill="#98bedb"/>
<rect x="426.00" y="255.65" width="51.20" height="0.96" fill="#99bfdb"/>
<rect x="426.00" y="256.61" width="51.20" height="1.73" fill="#b9d8e4"/>
<rect x="426.00" y="258.34" width="51.20" height="1.71" fill="#b0d1e2"/>
<rect x="426.00" y="260.92" width="51.20" height="1.47" fill="#92b9d9"/>
<rect x="426.00" y="262.38" width="51.20" height="0.98" fill="#95bbda"/>
<rect x="426.00" y="263.36" width="51.20" height="0.99" fill="#b7d6e4"/>
<rect x="426.00" y="266.34" width="51.20" height="1.56" fill="#94bbda"/>
<rect x="426.00" y="276.28" width="51.20" height="1.07" fill="#9cc1dc"/>
<rect x="426.00" y="277.35" width="51.20" height="1.08" fill="#94bbda"/>
<rect x="426.00" y="281.63" width="51.20" height="1.84" fill="#95bbda"/>
<rect x="426.00" y="283.47" width="51.20" height="1.14" fill="#99bedb"/>
<rect x="426.00" y="241.50" width="51.20" height="5.00" fill="#84aed6"/>
<rect x="426.00" y="277.00" width="51.20" height="7.70" fill="#88b2d8"/>
<rect x="426.00" y="277.00" width="51.20" height="1.84" fill="#9dc3de"/>
<rect x="426.00" y="278.84" width="51.20" height="1.16" fill="#92badb"/>
<rect x="426.00" y="281.79" width="51.20" height="0.92" fill="#7da9d5"/>
<rect x="426.00" y="284.70" width="51.20" height="2.70" fill="#f6f0bc"/>
<rect x="426.00" y="287.40" width="51.20" height="97.90" fill="url(#g3)"/>
<rect x="426.00" y="385.30" width="51.20" height="26.30" fill="url(#g4)"/>
<rect x="426.00" y="411.60" width="51.20" height="2.70" fill="#4270b0"/>
<rect x="426.00" y="414.30" width="51.20" height="37.20" fill="url(#g5)"/>
<rect x="426.00" y="451.50" width="51.20" height="45.80" fill="url(#g6)"/>
<rect x="426.00" y="497.30" width="51.20" height="2.30" fill="#f8f0b8"/>
<rect x="426.00" y="499.60" width="51.20" height="41.40" fill="url(#g7)"/>
<rect x="426.00" y="541.00" width="51.20" height="2.80" fill="url(#g8)"/>
<rect x="477.20" y="205.50" width="51.20" height="4.00" fill="#fde6a4"/>
<rect x="477.20" y="209.50" width="51.20" height="2.10" fill="#e0eeee"/>
<rect x="477.20" y="211.60" width="51.20" height="5.20" fill="#fde29a"/>
<rect x="477.20" y="216.80" width="51.20" height="3.20" fill="#dce8e4"/>
<rect x="477.20" y="220.00" width="51.20" height="11.50" fill="url(#g9)"/>
<rect x="477.20" y="231.50" width="51.20" height="54.20" fill="#d8302a"/>
<rect x="477.20" y="249.00" width="51.20" height="1.20" fill="#e65a40"/>
<rect x="477.20" y="285.70" width="51.20" height="2.10" fill="#f07050"/>
<rect x="477.20" y="287.80" width="51.20" height="97.50" fill="url(#g10)"/>
<rect x="477.20" y="385.30" width="51.20" height="25.20" fill="url(#g11)"/>
<rect x="477.20" y="410.50" width="51.20" height="3.20" fill="#f06040"/>
<rect x="477.20" y="413.70" width="51.20" height="17.30" fill="url(#g12)"/>
<rect x="477.20" y="431.00" width="51.20" height="11.60" fill="url(#g13)"/>
<rect x="477.20" y="442.60" width="51.20" height="8.80" fill="url(#g14)"/>
<rect x="477.20" y="451.40" width="51.20" height="2.90" fill="#f8a060"/>
<rect x="477.20" y="454.30" width="51.20" height="40.70" fill="url(#g15)"/>
<rect x="477.20" y="495.00" width="51.20" height="3.30" fill="url(#g16)"/>
<rect x="477.20" y="498.30" width="51.20" height="3.00" fill="#f6f4c8"/>
<rect x="477.20" y="501.30" width="51.20" height="42.50" fill="url(#g17)"/>
<rect x="528.40" y="205.50" width="51.10" height="5.00" fill="url(#g18)"/>
<rect x="528.40" y="210.50" width="51.10" height="2.10" fill="#a8c8e0"/>
<rect x="528.40" y="212.60" width="51.10" height="5.40" fill="url(#g19)"/>
<rect x="528.40" y="218.00" width="51.10" height="3.00" fill="#b8d4e8"/>
<rect x="528.40" y="221.00" width="51.10" height="10.50" fill="url(#g20)"/>
<rect x="528.40" y="231.50" width="51.10" height="15.80" fill="#d0e6f0"/>
<rect x="528.40" y="231.50" width="51.10" height="1.98" fill="#c1dceb"/>
<rect x="528.40" y="233.48" width="51.10" height="1.63" fill="#dceef4"/>
<rect x="528.40" y="235.10" width="51.10" height="1.32" fill="#c4dfec"/>
<rect x="528.40" y="241.50" width="51.10" height="1.40" fill="#bfdbea"/>
<rect x="528.40" y="242.90" width="51.10" height="1.90" fill="#c1dceb"/>
<rect x="528.40" y="246.66" width="51.10" height="0.64" fill="#d9ecf3"/>
<rect x="528.40" y="240.50" width="51.10" height="6.80" fill="#e2f0ec"/>
<rect x="528.40" y="247.30" width="51.10" height="2.10" fill="#4a78b8"/>
<rect x="528.40" y="249.40" width="51.10" height="35.30" fill="#c8e0ec"/>
<rect x="528.40" y="251.54" width="51.10" height="1.24" fill="#b1d1e5"/>
<rect x="528.40" y="257.71" width="51.10" height="1.28" fill="#b6d4e7"/>
<rect x="528.40" y="258.99" width="51.10" height="1.26" fill="#d3e7ef"/>
<rect x="528.40" y="260.25" width="51.10" height="2.00" fill="#b3d2e6"/>
<rect x="528.40" y="263.35" width="51.10" height="1.25" fill="#d1e6ef"/>
<rect x="528.40" y="266.42" width="51.10" height="1.89" fill="#d6e9f0"/>
<rect x="528.40" y="276.28" width="51.10" height="1.69" fill="#b1d1e5"/>
<rect x="528.40" y="279.40" width="51.10" height="1.61" fill="#b2d2e5"/>
<rect x="528.40" y="284.70" width="51.10" height="3.10" fill="#4a78b8"/>
<rect x="528.40" y="287.80" width="51.10" height="97.50" fill="url(#g21)"/>
<rect x="528.40" y="385.30" width="51.10" height="25.20" fill="url(#g22)"/>
<rect x="528.40" y="410.50" width="51.10" height="4.20" fill="#fde6b0"/>
<rect x="528.40" y="414.70" width="51.10" height="19.10" fill="url(#g23)"/>
<rect x="528.40" y="433.80" width="51.10" height="8.80" fill="url(#g24)"/>
<rect x="528.40" y="442.60" width="51.10" height="2.90" fill="#f89060"/>
<rect x="528.40" y="445.50" width="51.10" height="5.90" fill="#e05838"/>
<rect x="528.40" y="451.40" width="51.10" height="7.30" fill="url(#g25)"/>
<rect x="528.40" y="458.70" width="51.10" height="11.30" fill="url(#g26)"/>
<rect x="528.40" y="470.00" width="51.10" height="73.80" fill="#d8302a"/>
<rect x="528.40" y="497.50" width="51.10" height="1.30" fill="#e0503a"/>
<rect x="613.00" y="205.50" width="52.00" height="6.50" fill="#d8302a"/>
<rect x="613.00" y="212.00" width="52.00" height="5.40" fill="#e24a30"/>
<rect x="613.00" y="217.40" width="52.00" height="3.20" fill="#f6eec4"/>
<rect x="613.00" y="220.60" width="52.00" height="10.80" fill="#b8d4e4"/>
<rect x="613.00" y="220.60" width="52.00" height="1.07" fill="#d7e6ea"/>
<rect x="613.00" y="223.09" width="52.00" height="1.78" fill="#c8dee7"/>
<rect x="613.00" y="228.02" width="52.00" height="1.84" fill="#cce0e8"/>
<rect x="613.00" y="229.86" width="52.00" height="1.54" fill="#afcee2"/>
<rect x="613.00" y="231.40" width="52.00" height="19.50" fill="#fdc888"/>
<rect x="613.00" y="231.40" width="52.00" height="0.92" fill="#fedea1"/>
<rect x="613.00" y="232.32" width="52.00" height="1.34" fill="#fed89a"/>
<rect x="613.00" y="233.67" width="52.00" height="1.63" fill="#fed99c"/>
<rect x="613.00" y="235.30" width="52.00" height="1.71" fill="#fedc9f"/>
<rect x="613.00" y="237.01" width="52.00" height="1.42" fill="#fdbf7d"/>
<rect x="613.00" y="238.44" width="52.00" height="1.26" fill="#fdd597"/>
<rect x="613.00" y="239.69" width="52.00" height="0.87" fill="#fdbb7a"/>
<rect x="613.00" y="240.56" width="52.00" height="1.19" fill="#fdba78"/>
<rect x="613.00" y="243.31" width="52.00" height="1.04" fill="#fedea1"/>
<rect x="613.00" y="244.36" width="52.00" height="1.25" fill="#fed99b"/>
<rect x="613.00" y="245.60" width="52.00" height="1.66" fill="#fed89b"/>
<rect x="613.00" y="247.26" width="52.00" height="1.77" fill="#fed89a"/>
<rect x="613.00" y="249.03" width="52.00" height="1.87" fill="#fee1a4"/>
<rect x="613.00" y="250.90" width="52.00" height="3.40" fill="#5a8ac4"/>
<rect x="613.00" y="254.30" width="52.00" height="32.50" fill="#d4e4dc"/>
<rect x="613.00" y="255.55" width="52.00" height="1.20" fill="#edeac6"/>
<rect x="613.00" y="262.24" width="52.00" height="1.81" fill="#e8e9cb"/>
<rect x="613.00" y="268.39" width="52.00" height="1.28" fill="#ebeac8"/>
<rect x="613.00" y="271.40" width="52.00" height="0.94" fill="#e1e7d1"/>
<rect x="613.00" y="272.34" width="52.00" height="0.92" fill="#edeac7"/>
<rect x="613.00" y="279.95" width="52.00" height="1.85" fill="#e5e8cd"/>
<rect x="613.00" y="282.60" width="52.00" height="1.13" fill="#cae1e5"/>
<rect x="613.00" y="285.56" width="52.00" height="1.24" fill="#cde2e3"/>
<rect x="613.00" y="286.80" width="52.00" height="98.50" fill="#fdc686"/>
<rect x="613.00" y="288.64" width="52.00" height="1.83" fill="#fdbe7e"/>
<rect x="613.00" y="290.47" width="52.00" height="1.44" fill="#fed798"/>
<rect x="613.00" y="291.91" width="52.00" height="1.50" fill="#fdb978"/>
<rect x="613.00" y="295.32" width="52.00" height="0.86" fill="#fed899"/>
<rect x="613.00" y="296.18" width="52.00" height="1.48" fill="#fed495"/>
<rect x="613.00" y="303.25" width="52.00" height="0.87" fill="#fdba79"/>
<rect x="613.00" y="304.12" width="52.00" height="1.84" fill="#fdbb7a"/>
<rect x="613.00" y="307.86" width="52.00" height="1.76" fill="#feda9c"/>
<rect x="613.00" y="309.62" width="52.00" height="1.15" fill="#fdb877"/>
<rect x="613.00" y="310.77" width="52.00" height="1.90" fill="#fdbf7f"/>
<rect x="613.00" y="316.82" width="52.00" height="1.62" fill="#fdd192"/>
<rect x="613.00" y="319.30" width="52.00" height="1.15" fill="#fdbb7a"/>
<rect x="613.00" y="320.45" width="52.00" height="1.47" fill="#fcb877"/>
<rect x="613.00" y="321.92" width="52.00" height="1.81" fill="#fedc9e"/>
<rect x="613.00" y="323.73" width="52.00" height="1.27" fill="#fed697"/>
<rect x="613.00" y="326.07" width="52.00" height="0.91" fill="#fedb9d"/>
<rect x="613.00" y="326.98" width="52.00" height="1.61" fill="#fdb877"/>
<rect x="613.00" y="332.43" width="52.00" height="1.15" fill="#fedb9d"/>
<rect x="613.00" y="333.58" width="52.00" height="1.92" fill="#fed799"/>
<rect x="613.00" y="337.01" width="52.00" height="0.91" fill="#fed495"/>
<rect x="613.00" y="337.92" width="52.00" height="1.81" fill="#fcb877"/>
<rect x="613.00" y="342.47" width="52.00" height="1.59" fill="#fed596"/>
<rect x="613.00" y="346.16" width="52.00" height="1.16" fill="#fdbb7a"/>
<rect x="613.00" y="348.78" width="52.00" height="1.51" fill="#fdd191"/>
<rect x="613.00" y="352.17" width="52.00" height="1.22" fill="#fdba79"/>
<rect x="613.00" y="355.60" width="52.00" height="1.85" fill="#fdbf7e"/>
<rect x="613.00" y="357.45" width="52.00" height="1.85" fill="#fed899"/>
<rect x="613.00" y="359.30" width="52.00" height="0.94" fill="#fdd393"/>
<rect x="613.00" y="360.24" width="52.00" height="1.41" fill="#fdd394"/>
<rect x="613.00" y="361.65" width="52.00" height="1.04" fill="#fdd495"/>
<rect x="613.00" y="368.86" width="52.00" height="0.98" fill="#fdd191"/>
<rect x="613.00" y="369.85" width="52.00" height="1.42" fill="#fcb877"/>
<rect x="613.00" y="371.27" width="52.00" height="1.49" fill="#fed99a"/>
<rect x="613.00" y="372.76" width="52.00" height="1.65" fill="#fdd495"/>
<rect x="613.00" y="374.41" width="52.00" height="1.98" fill="#fed99b"/>
<rect x="613.00" y="376.39" width="52.00" height="1.78" fill="#fedc9e"/>
<rect x="613.00" y="378.17" width="52.00" height="1.91" fill="#fedea0"/>
<rect x="613.00" y="380.08" width="52.00" height="1.29" fill="#fdd495"/>
<rect x="613.00" y="381.37" width="52.00" height="1.61" fill="#fdbd7c"/>
<rect x="613.00" y="382.98" width="52.00" height="1.04" fill="#fed596"/>
<rect x="613.00" y="385.30" width="52.00" height="25.10" fill="#d8ece8"/>
<rect x="613.00" y="393.88" width="52.00" height="1.22" fill="#b9d6e3"/>
<rect x="613.00" y="395.10" width="52.00" height="1.69" fill="#bbd8e4"/>
<rect x="613.00" y="400.48" width="52.00" height="1.51" fill="#bbd8e4"/>
<rect x="613.00" y="401.98" width="52.00" height="1.84" fill="#b9d6e3"/>
<rect x="613.00" y="403.83" width="52.00" height="1.94" fill="#b9d6e3"/>
<rect x="613.00" y="406.87" width="52.00" height="1.08" fill="#e5f5ea"/>
<rect x="613.00" y="410.40" width="52.00" height="4.30" fill="#4a78b8"/>
<rect x="613.00" y="414.70" width="52.00" height="27.50" fill="#d8e4d8"/>
<rect x="613.00" y="419.65" width="52.00" height="1.29" fill="#eceac7"/>
<rect x="613.00" y="424.76" width="52.00" height="0.82" fill="#eeeac5"/>
<rect x="613.00" y="427.10" width="52.00" height="1.20" fill="#e7e8cb"/>
<rect x="613.00" y="428.30" width="52.00" height="1.54" fill="#d1e2de"/>
<rect x="613.00" y="429.85" width="52.00" height="1.64" fill="#eceac7"/>
<rect x="613.00" y="433.28" width="52.00" height="1.02" fill="#f1ebc3"/>
<rect x="613.00" y="440.13" width="52.00" height="1.99" fill="#cae0e4"/>
<rect x="613.00" y="442.11" width="52.00" height="0.09" fill="#e5e8cd"/>
<rect x="613.00" y="442.20" width="52.00" height="9.80" fill="#4a78b8"/>
<rect x="613.00" y="452.00" width="52.00" height="18.60" fill="#a8c8e0"/>
<rect x="613.00" y="453.35" width="52.00" height="1.10" fill="#b4d1e4"/>
<rect x="613.00" y="462.86" width="52.00" height="1.56" fill="#bad6e7"/>
<rect x="613.00" y="464.42" width="52.00" height="1.89" fill="#b8d4e6"/>
<rect x="613.00" y="470.60" width="52.00" height="28.80" fill="#4a78b8"/>
<rect x="613.00" y="470.60" width="52.00" height="1.70" fill="#4573b5"/>
<rect x="613.00" y="475.22" width="52.00" height="1.49" fill="#5280bd"/>
<rect x="613.00" y="476.71" width="52.00" height="1.57" fill="#4371b4"/>
<rect x="613.00" y="486.38" width="52.00" height="1.13" fill="#5482be"/>
<rect x="613.00" y="490.23" width="52.00" height="1.85" fill="#4472b4"/>
<rect x="613.00" y="492.09" width="52.00" height="1.17" fill="#517fbd"/>
<rect x="613.00" y="496.25" width="52.00" height="1.93" fill="#5280bd"/>
<rect x="613.00" y="498.18" width="52.00" height="0.93" fill="#5280bd"/>
<rect x="613.00" y="499.11" width="52.00" height="0.29" fill="#517fbc"/>
<rect x="613.00" y="499.40" width="52.00" height="44.40" fill="#a8c8e0"/>
<rect x="613.00" y="502.30" width="52.00" height="1.18" fill="#95badb"/>
<rect x="613.00" y="504.95" width="52.00" height="1.70" fill="#9abedc"/>
<rect x="613.00" y="506.66" width="52.00" height="1.44" fill="#b2cfe3"/>
<rect x="613.00" y="508.09" width="52.00" height="1.73" fill="#94bada"/>
<rect x="613.00" y="511.04" width="52.00" height="1.12" fill="#9ec1dd"/>
<rect x="613.00" y="515.16" width="52.00" height="0.93" fill="#96bbdb"/>
<rect x="613.00" y="517.65" width="52.00" height="1.73" fill="#92b9da"/>
<rect x="613.00" y="519.38" width="52.00" height="1.21" fill="#b4d0e3"/>
<rect x="613.00" y="524.66" width="52.00" height="0.96" fill="#9ec1dd"/>
<rect x="613.00" y="543.22" width="52.00" height="0.58" fill="#97bcdb"/>
<rect x="665.00" y="205.50" width="52.20" height="5.30" fill="#a8c8e0"/>
<rect x="665.00" y="205.50" width="52.20" height="1.13" fill="#9ec1dd"/>
<rect x="665.00" y="208.24" width="52.20" height="1.76" fill="#98bddb"/>
<rect x="665.00" y="210.00" width="52.20" height="0.80" fill="#b5d1e4"/>
<rect x="665.00" y="210.80" width="52.20" height="7.60" fill="#f8f4c0"/>
<rect x="665.00" y="218.40" width="52.20" height="2.20" fill="#f8a060"/>
<rect x="665.00" y="220.60" width="52.20" height="9.70" fill="#d8302a"/>
<rect x="665.00" y="230.30" width="52.20" height="19.50" fill="#f89060"/>
<rect x="665.00" y="230.30" width="52.20" height="0.97" fill="#f99b68"/>
<rect x="665.00" y="233.58" width="52.20" height="0.93" fill="#f78457"/>
<rect x="665.00" y="241.26" width="52.20" height="1.31" fill="#faa46f"/>
<rect x="665.00" y="242.57" width="52.20" height="1.50" fill="#faa26e"/>
<rect x="665.00" y="247.14" width="52.20" height="1.95" fill="#f78155"/>
<rect x="665.00" y="249.09" width="52.20" height="0.71" fill="#faa16d"/>
<rect x="665.00" y="249.80" width="52.20" height="3.20" fill="#e04a30"/>
<rect x="665.00" y="253.00" width="52.20" height="2.40" fill="#f8b080"/>
<rect x="665.00" y="255.40" width="52.20" height="31.40" fill="#98bede"/>
<rect x="665.00" y="257.05" width="52.20" height="1.21" fill="#abcee6"/>
<rect x="665.00" y="259.29" width="52.20" height="1.42" fill="#7ea8d3"/>
<rect x="665.00" y="260.71" width="52.20" height="1.04" fill="#739fcf"/>
<rect x="665.00" y="267.32" width="52.20" height="0.88" fill="#84add6"/>
<rect x="665.00" y="269.86" width="52.20" height="1.12" fill="#7fa9d4"/>
<rect x="665.00" y="270.98" width="52.20" height="1.99" fill="#a5c9e3"/>
<rect x="665.00" y="275.96" width="52.20" height="0.92" fill="#80aad4"/>
<rect x="665.00" y="281.51" width="52.20" height="0.95" fill="#739fcf"/>
<rect x="665.00" y="282.47" width="52.20" height="1.05" fill="#84add5"/>
<rect x="665.00" y="285.17" width="52.20" height="1.63" fill="#6e9bcd"/>
<rect x="665.00" y="286.80" width="52.20" height="98.50" fill="#f6945e"/>
<rect x="665.00" y="288.57" width="52.20" height="0.96" fill="#f38755"/>
<rect x="665.00" y="289.53" width="52.20" height="1.25" fill="#f27e4e"/>
<rect x="665.00" y="290.79" width="52.20" height="1.36" fill="#f27e4e"/>
<rect x="665.00" y="292.15" width="52.20" height="0.89" fill="#f28150"/>
<rect x="665.00" y="294.41" width="52.20" height="1.05" fill="#f17d4d"/>
<rect x="665.00" y="296.38" width="52.20" height="0.95" fill="#f38452"/>
<rect x="665.00" y="298.90" width="52.20" height="1.33" fill="#f8a067"/>
<rect x="665.00" y="300.23" width="52.20" height="1.36" fill="#f28150"/>
<rect x="665.00" y="305.28" width="52.20" height="1.52" fill="#f38754"/>
<rect x="665.00" y="306.80" width="52.20" height="1.07" fill="#f27f4f"/>
<rect x="665.00" y="309.43" width="52.20" height="0.85" fill="#f17c4d"/>
<rect x="665.00" y="310.28" width="52.20" height="0.85" fill="#f38754"/>
<rect x="665.00" y="314.11" width="52.20" height="1.90" fill="#f79b63"/>
<rect x="665.00" y="316.01" width="52.20" height="1.71" fill="#f17c4d"/>
<rect x="665.00" y="327.72" width="52.20" height="0.89" fill="#f89e66"/>
<rect x="665.00" y="328.61" width="52.20" height="1.28" fill="#f8a067"/>
<rect x="665.00" y="331.68" width="52.20" height="1.35" fill="#f89f66"/>
<rect x="665.00" y="333.03" width="52.20" height="1.31" fill="#f17c4d"/>
<rect x="665.00" y="334.35" width="52.20" height="1.22" fill="#f2804f"/>
<rect x="665.00" y="335.57" width="52.20" height="1.82" fill="#f89d65"/>
<rect x="665.00" y="337.39" width="52.20" height="1.71" fill="#f28251"/>
<rect x="665.00" y="339.10" width="52.20" height="1.72" fill="#f79a63"/>
<rect x="665.00" y="350.32" width="52.20" height="1.66" fill="#f28150"/>
<rect x="665.00" y="355.65" width="52.20" height="1.10" fill="#f89d64"/>
<rect x="665.00" y="356.75" width="52.20" height="0.91" fill="#f17c4d"/>
<rect x="665.00" y="361.39" width="52.20" height="1.70" fill="#f38754"/>
<rect x="665.00" y="363.09" width="52.20" height="0.83" fill="#f27e4e"/>
<rect x="665.00" y="371.93" width="52.20" height="1.96" fill="#f38351"/>
<rect x="665.00" y="378.26" width="52.20" height="0.91" fill="#f38654"/>
<rect x="665.00" y="379.16" width="52.20" height="0.82" fill="#f2804f"/>
<rect x="665.00" y="379.98" width="52.20" height="1.01" fill="#f28150"/>
<rect x="665.00" y="382.69" width="52.20" height="1.10" fill="#f48a57"/>
<rect x="665.00" y="383.78" width="52.20" height="1.05" fill="#f17d4d"/>
<rect x="665.00" y="385.30" width="52.20" height="25.50" fill="#d8302a"/>
<rect x="665.00" y="410.80" width="52.20" height="4.40" fill="#fbb070"/>
<rect x="665.00" y="415.20" width="52.20" height="27.00" fill="#9cc2de"/>
<rect x="665.00" y="416.72" width="52.20" height="1.16" fill="#a3c8e1"/>
<rect x="665.00" y="417.88" width="52.20" height="1.23" fill="#8fb8da"/>
<rect x="665.00" y="422.21" width="52.20" height="1.01" fill="#8cb5d8"/>
<rect x="665.00" y="423.22" width="52.20" height="1.63" fill="#aacde3"/>
<rect x="665.00" y="424.85" width="52.20" height="1.92" fill="#abcee3"/>
<rect x="665.00" y="426.77" width="52.20" height="1.79" fill="#83aed5"/>
<rect x="665.00" y="428.56" width="52.20" height="1.60" fill="#a3c7e0"/>
<rect x="665.00" y="430.17" width="52.20" height="1.89" fill="#86b0d6"/>
<rect x="665.00" y="432.05" width="52.20" height="1.59" fill="#a4c9e1"/>
<rect x="665.00" y="433.65" width="52.20" height="1.98" fill="#86b0d6"/>
<rect x="665.00" y="435.63" width="52.20" height="1.07" fill="#91b9da"/>
<rect x="665.00" y="439.85" width="52.20" height="1.10" fill="#a8cce2"/>
<rect x="665.00" y="442.05" width="52.20" height="0.15" fill="#aacee3"/>
<rect x="665.00" y="442.20" width="52.20" height="1.90" fill="#f8a070"/>
<rect x="665.00" y="444.10" width="52.20" height="2.10" fill="#f07048"/>
<rect x="665.00" y="446.20" width="52.20" height="2.10" fill="#fdc080"/>
<rect x="665.00" y="448.30" width="52.20" height="2.10" fill="#f07048"/>
<rect x="665.00" y="450.40" width="52.20" height="2.00" fill="#f6c8a4"/>
<rect x="665.00" y="452.40" width="52.20" height="18.20" fill="#cce4ec"/>
<rect x="665.00" y="452.40" width="52.20" height="1.03" fill="#bad8e6"/>
<rect x="665.00" y="455.00" width="52.20" height="1.84" fill="#b5d5e4"/>
<rect x="665.00" y="456.85" width="52.20" height="1.08" fill="#d7ecf0"/>
<rect x="665.00" y="459.28" width="52.20" height="0.91" fill="#d8ecf0"/>
<rect x="665.00" y="460.19" width="52.20" height="1.08" fill="#d4e9ef"/>
<rect x="665.00" y="464.43" width="52.20" height="0.89" fill="#b4d4e4"/>
<rect x="665.00" y="467.16" width="52.20" height="1.83" fill="#b0d1e3"/>
<rect x="665.00" y="468.99" width="52.20" height="1.09" fill="#dceff1"/>
<rect x="665.00" y="470.07" width="52.20" height="0.53" fill="#b1d2e3"/>
<rect x="665.00" y="470.60" width="52.20" height="28.80" fill="#f8a068"/>
<rect x="665.00" y="470.60" width="52.20" height="1.68" fill="#f7965e"/>
<rect x="665.00" y="473.32" width="52.20" height="1.23" fill="#fab981"/>
<rect x="665.00" y="474.56" width="52.20" height="1.02" fill="#fab47c"/>
<rect x="665.00" y="483.61" width="52.20" height="1.83" fill="#f7925a"/>
<rect x="665.00" y="486.51" width="52.20" height="1.88" fill="#f79860"/>
<rect x="665.00" y="488.39" width="52.20" height="1.33" fill="#f9ad75"/>
<rect x="665.00" y="497.20" width="52.20" height="1.55" fill="#f7925a"/>
<rect x="665.00" y="499.40" width="52.20" height="44.40" fill="#c8e0ec"/>
<rect x="665.00" y="500.47" width="52.20" height="1.19" fill="#b8d6e6"/>
<rect x="665.00" y="501.66" width="52.20" height="0.83" fill="#bbd8e7"/>
<rect x="665.00" y="505.87" width="52.20" height="0.97" fill="#bcd8e7"/>
<rect x="665.00" y="506.83" width="52.20" height="0.98" fill="#b6d5e5"/>
<rect x="665.00" y="507.81" width="52.20" height="1.86" fill="#d0e5ef"/>
<rect x="665.00" y="514.06" width="52.20" height="1.95" fill="#afd1e3"/>
<rect x="665.00" y="516.87" width="52.20" height="0.92" fill="#d1e6ef"/>
<rect x="665.00" y="524.47" width="52.20" height="0.94" fill="#b4d3e4"/>
<rect x="665.00" y="527.17" width="52.20" height="1.95" fill="#bdd9e8"/>
<rect x="665.00" y="529.12" width="52.20" height="1.48" fill="#d5e8f1"/>
<rect x="665.00" y="530.61" width="52.20" height="1.08" fill="#b6d5e5"/>
<rect x="665.00" y="538.16" width="52.20" height="1.58" fill="#afd0e3"/>
<rect x="665.00" y="539.74" width="52.20" height="1.08" fill="#d7e9f2"/>
<rect x="665.00" y="542.11" width="52.20" height="1.69" fill="#b2d3e4"/>
<rect x="717.20" y="205.50" width="51.20" height="5.30" fill="#c8dcd8"/>
<rect x="717.20" y="210.80" width="51.20" height="9.80" fill="#4e7ebd"/>
<rect x="717.20" y="213.80" width="51.20" height="2.00" fill="#78a4d0"/>
<rect x="717.20" y="220.60" width="51.20" height="9.70" fill="#b0d0e4"/>
<rect x="717.20" y="222.60" width="51.20" height="2.00" fill="#d0e4ec"/>
<rect x="717.20" y="226.60" width="51.20" height="1.80" fill="#cfe3ea"/>
<rect x="717.20" y="230.30" width="51.20" height="20.60" fill="#4a78b8"/>
<rect x="717.20" y="231.90" width="51.20" height="0.95" fill="#4674b5"/>
<rect x="717.20" y="232.85" width="51.20" height="0.84" fill="#5280bd"/>
<rect x="717.20" y="237.74" width="51.20" height="1.32" fill="#4573b5"/>
<rect x="717.20" y="239.07" width="51.20" height="1.61" fill="#5280bd"/>
<rect x="717.20" y="246.65" width="51.20" height="1.16" fill="#5583bf"/>
<rect x="717.20" y="249.63" width="51.20" height="1.27" fill="#4f7dbb"/>
<rect x="717.20" y="250.90" width="51.20" height="3.20" fill="#f8a070"/>
<rect x="717.20" y="254.10" width="51.20" height="32.70" fill="#e04030"/>
<rect x="717.20" y="254.10" width="51.20" height="1.67" fill="#dd382b"/>
<rect x="717.20" y="256.78" width="51.20" height="0.80" fill="#e7523b"/>
<rect x="717.20" y="257.58" width="51.20" height="1.98" fill="#e64f39"/>
<rect x="717.20" y="259.57" width="51.20" height="1.96" fill="#e8533c"/>
<rect x="717.20" y="262.72" width="51.20" height="1.37" fill="#dd382b"/>
<rect x="717.20" y="264.09" width="51.20" height="0.99" fill="#ea593f"/>
<rect x="717.20" y="266.20" width="51.20" height="1.67" fill="#db3328"/>
<rect x="717.20" y="269.79" width="51.20" height="0.86" fill="#ea5a40"/>
<rect x="717.20" y="270.65" width="51.20" height="1.66" fill="#eb5c41"/>
<rect x="717.20" y="276.02" width="51.20" height="1.08" fill="#ea5a3f"/>
<rect x="717.20" y="277.10" width="51.20" height="0.97" fill="#da3227"/>
<rect x="717.20" y="278.06" width="51.20" height="1.56" fill="#e7523b"/>
<rect x="717.20" y="281.90" width="51.20" height="1.07" fill="#ea593f"/>
<rect x="717.20" y="284.50" width="51.20" height="1.05" fill="#da3127"/>
<rect x="717.20" y="285.55" width="51.20" height="0.99" fill="#eb5c41"/>
<rect x="717.20" y="286.80" width="51.20" height="98.50" fill="#4a78b8"/>
<rect x="717.20" y="290.60" width="51.20" height="0.91" fill="#4573b5"/>
<rect x="717.20" y="293.42" width="51.20" height="1.35" fill="#507ebc"/>
<rect x="717.20" y="297.86" width="51.20" height="1.73" fill="#507ebc"/>
<rect x="717.20" y="299.59" width="51.20" height="1.38" fill="#4472b4"/>
<rect x="717.20" y="306.97" width="51.20" height="1.54" fill="#5381bd"/>
<rect x="717.20" y="308.51" width="51.20" height="1.13" fill="#5785c0"/>
<rect x="717.20" y="310.60" width="51.20" height="1.54" fill="#507ebc"/>
<rect x="717.20" y="315.68" width="51.20" height="0.86" fill="#4371b4"/>
<rect x="717.20" y="316.55" width="51.20" height="0.93" fill="#507ebc"/>
<rect x="717.20" y="317.47" width="51.20" height="1.80" fill="#507ebc"/>
<rect x="717.20" y="320.58" width="51.20" height="0.95" fill="#4270b3"/>
<rect x="717.20" y="325.88" width="51.20" height="1.52" fill="#5381bd"/>
<rect x="717.20" y="327.41" width="51.20" height="1.68" fill="#517fbc"/>
<rect x="717.20" y="330.02" width="51.20" height="1.21" fill="#517fbc"/>
<rect x="717.20" y="331.22" width="51.20" height="1.99" fill="#4371b4"/>
<rect x="717.20" y="334.22" width="51.20" height="1.21" fill="#5280bd"/>
<rect x="717.20" y="345.73" width="51.20" height="1.25" fill="#517fbc"/>
<rect x="717.20" y="354.68" width="51.20" height="1.78" fill="#5482be"/>
<rect x="717.20" y="356.45" width="51.20" height="1.81" fill="#4472b5"/>
<rect x="717.20" y="361.86" width="51.20" height="1.85" fill="#5684c0"/>
<rect x="717.20" y="371.64" width="51.20" height="1.10" fill="#4573b5"/>
<rect x="717.20" y="372.74" width="51.20" height="1.76" fill="#4775b6"/>
<rect x="717.20" y="374.50" width="51.20" height="1.69" fill="#5381bd"/>
<rect x="717.20" y="384.05" width="51.20" height="1.25" fill="#5482be"/>
<rect x="717.20" y="385.30" width="51.20" height="25.50" fill="#90b8dc"/>
<rect x="717.20" y="388.02" width="51.20" height="1.60" fill="#a0c4e0"/>
<rect x="717.20" y="394.68" width="51.20" height="1.32" fill="#a2c6e1"/>
<rect x="717.20" y="396.00" width="51.20" height="1.75" fill="#9ec2df"/>
<rect x="717.20" y="397.74" width="51.20" height="1.76" fill="#a8cae2"/>
<rect x="717.20" y="399.51" width="51.20" height="1.32" fill="#a5c8e1"/>
<rect x="717.20" y="400.83" width="51.20" height="1.04" fill="#9fc3e0"/>
<rect x="717.20" y="407.26" width="51.20" height="1.75" fill="#a8cae2"/>
<rect x="717.20" y="410.80" width="51.20" height="4.40" fill="#f8a060"/>
<rect x="717.20" y="415.20" width="51.20" height="27.00" fill="#e04030"/>
<rect x="717.20" y="415.20" width="51.20" height="1.05" fill="#d73429"/>
<rect x="717.20" y="419.54" width="51.20" height="1.47" fill="#d63229"/>
<rect x="717.20" y="422.32" width="51.20" height="1.11" fill="#d8352a"/>
<rect x="717.20" y="423.43" width="51.20" height="1.36" fill="#e34432"/>
<rect x="717.20" y="426.46" width="51.20" height="1.08" fill="#e54734"/>
<rect x="717.20" y="434.55" width="51.20" height="1.91" fill="#d42f27"/>
<rect x="717.20" y="436.46" width="51.20" height="0.90" fill="#d53128"/>
<rect x="717.20" y="441.11" width="51.20" height="1.09" fill="#da372b"/>
<rect x="717.20" y="442.20" width="51.20" height="1.90" fill="#e85a3c"/>
<rect x="717.20" y="444.10" width="51.20" height="2.10" fill="#fee6a6"/>
<rect x="717.20" y="446.20" width="51.20" height="2.10" fill="#f8a468"/>
<rect x="717.20" y="448.30" width="51.20" height="2.10" fill="#fee6a6"/>
<rect x="717.20" y="450.40" width="51.20" height="2.00" fill="#ea5e40"/>
<rect x="717.20" y="452.00" width="51.20" height="18.60" fill="#d8302a"/>
<rect x="717.20" y="470.60" width="51.20" height="28.80" fill="#fdc090"/>
<rect x="717.20" y="470.60" width="51.20" height="1.54" fill="#fec89a"/>
<rect x="717.20" y="472.14" width="51.20" height="0.90" fill="#fbb17d"/>
<rect x="717.20" y="476.78" width="51.20" height="1.37" fill="#ffcc9e"/>
<rect x="717.20" y="478.14" width="51.20" height="1.00" fill="#faab76"/>
<rect x="717.20" y="479.14" width="51.20" height="1.28" fill="#faaf7b"/>
<rect x="717.20" y="480.43" width="51.20" height="1.63" fill="#fbb380"/>
<rect x="717.20" y="482.06" width="51.20" height="1.49" fill="#f9a973"/>
<rect x="717.20" y="484.77" width="51.20" height="1.90" fill="#ffca9d"/>
<rect x="717.20" y="489.82" width="51.20" height="0.97" fill="#f9a973"/>
<rect x="717.20" y="493.51" width="51.20" height="1.46" fill="#fec89a"/>
<rect x="717.20" y="496.85" width="51.20" height="0.83" fill="#faae7a"/>
<rect x="717.20" y="499.40" width="51.20" height="44.40" fill="#d8302a"/>
<rect x="717.20" y="511.81" width="51.20" height="0.83" fill="#da362e"/>
<rect x="717.20" y="520.43" width="51.20" height="1.32" fill="#dc3c31"/>
<rect x="717.20" y="521.75" width="51.20" height="1.26" fill="#dc3d32"/>
<rect x="717.20" y="524.53" width="51.20" height="0.85" fill="#d72c28"/>
<rect x="717.20" y="527.02" width="51.20" height="0.93" fill="#da372e"/>
<rect x="717.20" y="535.19" width="51.20" height="1.65" fill="#d72c27"/>
<rect x="717.20" y="538.93" width="51.20" height="1.62" fill="#db3a30"/>
<rect x="43.90" y="577.00" width="6.70" height="6.50" fill="#4a74b6"/>
<rect x="51.80" y="577.00" width="16.40" height="6.50" fill="#5f8cc8"/>
<rect x="69.40" y="577.00" width="7.50" height="6.50" fill="#80aad4"/>
<rect x="78.10" y="577.00" width="7.80" height="6.50" fill="#a8c8e0"/>
<rect x="87.10" y="577.00" width="8.00" height="6.50" fill="#c8e0ec"/>
<rect x="96.30" y="577.00" width="8.80" height="6.50" fill="#dfecde"/>
<rect x="106.30" y="577.00" width="8.10" height="6.50" fill="#eef4cc"/>
<rect x="114.90" y="577.00" width="10.10" height="6.50" fill="#f8f6b4"/>
<rect x="126.10" y="577.00" width="14.60" height="6.50" fill="#fde6a0"/>
<rect x="141.90" y="577.00" width="17.30" height="6.50" fill="#fcc282"/>
<rect x="160.40" y="577.00" width="8.00" height="6.50" fill="#f89c64"/>
<rect x="169.60" y="577.00" width="7.80" height="6.50" fill="#f47c54"/>
<rect x="178.60" y="577.00" width="7.70" height="6.50" fill="#ea5a40"/>
<rect x="187.50" y="577.00" width="3.50" height="6.50" fill="#d83a2e"/>
<rect x="527.10" y="576.80" width="6.70" height="6.70" fill="#4a74b6"/>
<rect x="535.00" y="576.80" width="16.40" height="6.70" fill="#5f8cc8"/>
<rect x="552.60" y="576.80" width="7.50" height="6.70" fill="#80aad4"/>
<rect x="561.30" y="576.80" width="7.80" height="6.70" fill="#a8c8e0"/>
<rect x="570.30" y="576.80" width="8.00" height="6.70" fill="#c8e0ec"/>
<rect x="579.50" y="576.80" width="8.80" height="6.70" fill="#dfecde"/>
<rect x="589.50" y="576.80" width="8.10" height="6.70" fill="#eef4cc"/>
<rect x="598.10" y="576.80" width="10.10" height="6.70" fill="#f8f6b4"/>
<rect x="609.30" y="576.80" width="14.60" height="6.70" fill="#fde6a0"/>
<rect x="625.10" y="576.80" width="17.30" height="6.70" fill="#fcc282"/>
<rect x="643.60" y="576.80" width="8.00" height="6.70" fill="#f89c64"/>
<rect x="652.80" y="576.80" width="7.80" height="6.70" fill="#f47c54"/>
<rect x="661.80" y="576.80" width="7.70" height="6.70" fill="#ea5a40"/>
<rect x="670.70" y="576.80" width="3.50" height="6.70" fill="#d83a2e"/>
<g shape-rendering="crispEdges"><rect x="490.50" y="67.60" width="39.80" height="13.80" fill="#2f68f0"/>
<rect x="530.00" y="67.60" width="39.80" height="13.80" fill="#f7b98d"/>
<rect x="569.50" y="67.60" width="39.80" height="13.80" fill="#f7b98d"/>
<rect x="609.00" y="67.60" width="39.80" height="13.80" fill="#f7b98d"/>
<rect x="648.50" y="67.60" width="39.80" height="13.80" fill="#f7b98d"/>
<rect x="490.50" y="81.10" width="39.80" height="13.80" fill="#f7b98d"/>
<rect x="530.00" y="81.10" width="39.80" height="13.80" fill="#2f68f0"/>
<rect x="569.50" y="81.10" width="39.80" height="13.80" fill="#82cdf6"/>
<rect x="609.00" y="81.10" width="39.80" height="13.80" fill="#f7b98d"/>
<rect x="648.50" y="81.10" width="39.80" height="13.80" fill="#f7b98d"/>
<rect x="688.00" y="81.10" width="39.80" height="13.80" fill="#f7b98d"/>
<rect x="490.50" y="94.60" width="39.80" height="13.80" fill="#f7b98d"/>
<rect x="569.50" y="94.60" width="39.80" height="13.80" fill="#2f68f0"/>
<rect x="609.00" y="94.60" width="39.80" height="13.80" fill="#f7b98d"/>
<rect x="648.50" y="94.60" width="39.80" height="13.80" fill="#f7b98d"/>
<rect x="688.00" y="94.60" width="39.80" height="13.80" fill="#f7b98d"/>
<rect x="490.50" y="108.10" width="39.80" height="13.80" fill="#f7b98d"/>
<rect x="609.00" y="108.10" width="39.80" height="13.80" fill="#2f68f0"/>
<rect x="648.50" y="108.10" width="39.80" height="13.80" fill="#82cdf6"/>
<rect x="688.00" y="108.10" width="39.80" height="13.80" fill="#f7b98d"/>
<rect x="490.50" y="121.60" width="39.80" height="13.80" fill="#f7b98d"/>
<rect x="648.50" y="121.60" width="39.80" height="13.80" fill="#2f68f0"/>
<rect x="688.00" y="121.60" width="39.80" height="13.80" fill="#f7b98d"/></g>
<path d="M190.3 56.2 H195.8 V60.8 H190.3" fill="none" stroke="#0a0a0a" stroke-width="1.8" stroke-linejoin="round"/>
<path d="M190.3 64.2 H195.8 V118.0 H190.3" fill="none" stroke="#0a0a0a" stroke-width="1.8" stroke-linejoin="round"/>
<path d="M190.3 122.3 H195.8 V186.8 H190.3" fill="none" stroke="#0a0a0a" stroke-width="1.8" stroke-linejoin="round"/>
<path d="M190.3 191.2 H195.8 V228.0 H190.3" fill="none" stroke="#0a0a0a" stroke-width="1.8" stroke-linejoin="round"/>
<path d="M190.3 231.0 H195.8 V280.0 H190.3" fill="none" stroke="#0a0a0a" stroke-width="1.8" stroke-linejoin="round"/>
<path d="M190.3 327.6 H195.8 V354.0 H190.3" fill="none" stroke="#0a0a0a" stroke-width="1.8" stroke-linejoin="round"/>
<path d="M190.3 357.6 H195.8 V382.0 H190.3" fill="none" stroke="#0a0a0a" stroke-width="1.8" stroke-linejoin="round"/>
<path d="M190.3 385.6 H195.8 V442.3 H190.3" fill="none" stroke="#0a0a0a" stroke-width="1.8" stroke-linejoin="round"/>
<path d="M190.3 445.3 H195.8 V483.8 H190.3" fill="none" stroke="#0a0a0a" stroke-width="1.8" stroke-linejoin="round"/>
<path d="M190.3 486.6 H195.8 V539.5 H190.3" fill="none" stroke="#0a0a0a" stroke-width="1.8" stroke-linejoin="round"/>
<path d="M190.3 543.6 H195.8 V549.8 H190.3" fill="none" stroke="#0a0a0a" stroke-width="1.8" stroke-linejoin="round"/>
<path d="M490.4 25.5 V149.6" stroke="#222" stroke-width="1.15"/>
<path d="M727.7 39.5 V149.6" stroke="#222" stroke-width="1.15"/>
<path d="M414 67.1 H767.2" stroke="#333" stroke-width="1.3"/>
<path d="M414 135.8 H767.2" stroke="#333" stroke-width="1.3"/>
<path d="M717.3 205.4 V571.2" stroke="#111" stroke-width="1.8" stroke-dasharray="6,4.58"/>
<path d="M695.9 563.5 V578.5 Q695.9 581.2 698.6 581.2 H737.2 V564.8" fill="none" stroke="#111" stroke-width="1.6"/>
<path d="M731.4 570.6 L737.2 564.2 L743.2 570.6" fill="none" stroke="#111" stroke-width="1.7"/>
<text x="2.00" y="20.90" font-size="18" text-anchor="start" font-weight="bold" font-style="normal" fill="#000" stroke="#000" stroke-width="0.35">A</text>
<text x="2.00" y="314.00" font-size="18" text-anchor="start" font-weight="bold" font-style="normal" fill="#000" stroke="#000" stroke-width="0.35">B</text>
<text x="408.00" y="20.90" font-size="18" text-anchor="start" font-weight="bold" font-style="normal" fill="#000" stroke="#000" stroke-width="0.35">C</text>
<text x="408.00" y="195.50" font-size="18" text-anchor="start" font-weight="bold" font-style="normal" fill="#000" stroke="#000" stroke-width="0.35">D</text>
<text x="112.30" y="44.60" font-size="12" text-anchor="middle" font-weight="normal" font-style="normal" fill="#1e1e1e" stroke="#1e1e1e" stroke-width="0.25">Steady-state mRNA</text>
<text x="209.50" y="39.70" font-size="12" text-anchor="start" font-weight="normal" font-style="italic" fill="#1e1e1e" stroke="#1e1e1e" stroke-width="0.25">n</text>
<text x="243.50" y="39.70" font-size="12" text-anchor="start" font-weight="normal" font-style="normal" fill="#1e1e1e" stroke="#1e1e1e" stroke-width="0.25">Enriched GO terms</text>
<text x="19.00" y="64.80" font-size="12" text-anchor="start" font-weight="normal" font-style="normal" fill="#1e1e1e" stroke="#1e1e1e" stroke-width="0.25">A.1</text>
<text x="19.00" y="91.00" font-size="12" text-anchor="start" font-weight="normal" font-style="normal" fill="#1e1e1e" stroke="#1e1e1e" stroke-width="0.25">A.2</text>
<text x="19.00" y="158.00" font-size="12" text-anchor="start" font-weight="normal" font-style="normal" fill="#1e1e1e" stroke="#1e1e1e" stroke-width="0.25">A.3</text>
<text x="19.00" y="210.70" font-size="12" text-anchor="start" font-weight="normal" font-style="normal" fill="#1e1e1e" stroke="#1e1e1e" stroke-width="0.25">A.4</text>
<text x="19.00" y="259.00" font-size="12" text-anchor="start" font-weight="normal" font-style="normal" fill="#1e1e1e" stroke="#1e1e1e" stroke-width="0.25">A.5</text>
<text x="64.50" y="291.00" font-size="12" text-anchor="middle" font-weight="normal" font-style="normal" fill="#1e1e1e" stroke="#1e1e1e" stroke-width="0.25">0h</text>
<text x="111.50" y="291.00" font-size="12" text-anchor="middle" font-weight="normal" font-style="normal" fill="#1e1e1e" stroke="#1e1e1e" stroke-width="0.25">18h</text>
<text x="160.00" y="291.00" font-size="12" text-anchor="middle" font-weight="normal" font-style="normal" fill="#1e1e1e" stroke="#1e1e1e" stroke-width="0.25">36h</text>
<text x="202.00" y="62.10" font-size="12" text-anchor="start" font-weight="normal" font-style="normal" fill="#1e1e1e" stroke="#1e1e1e" stroke-width="0.25">139</text>
<text x="243.50" y="62.10" font-size="12" text-anchor="start" font-weight="normal" font-style="normal" fill="#1e1e1e" stroke="#1e1e1e" stroke-width="0.25">n.a.</text>
<text x="202.00" y="83.20" font-size="12" text-anchor="start" font-weight="normal" font-style="normal" fill="#1e1e1e" stroke="#1e1e1e" stroke-width="0.25">1,032</text>
<text x="243.50" y="83.20" font-size="12" text-anchor="start" font-weight="normal" font-style="normal" fill="#1e1e1e" stroke="#1e1e1e" stroke-width="0.25">Helicase activity</text>
<text x="243.50" y="97.60" font-size="12" text-anchor="start" font-weight="normal" font-style="normal" fill="#1e1e1e" stroke="#1e1e1e" stroke-width="0.25">Translocation into host</text>
<text x="243.50" y="112.00" font-size="12" text-anchor="start" font-weight="normal" font-style="normal" fill="#1e1e1e" stroke="#1e1e1e" stroke-width="0.25">Ribosome biogenesis</text>
<text x="202.00" y="139.50" font-size="12" text-anchor="start" font-weight="normal" font-style="normal" fill="#1e1e1e" stroke="#1e1e1e" stroke-width="0.25">1,219</text>
<text x="243.50" y="139.50" font-size="12" text-anchor="start" font-weight="normal" font-style="normal" fill="#1e1e1e" stroke="#1e1e1e" stroke-width="0.25">Ribosome</text>
<text x="243.50" y="153.90" font-size="12" text-anchor="start" font-weight="normal" font-style="normal" fill="#1e1e1e" stroke="#1e1e1e" stroke-width="0.25">Translation</text>
<text x="243.50" y="168.30" font-size="12" text-anchor="start" font-weight="normal" font-style="normal" fill="#1e1e1e" stroke="#1e1e1e" stroke-width="0.25">DNA replication</text>
<text x="202.00" y="212.40" font-size="12" text-anchor="start" font-weight="normal" font-style="normal" fill="#1e1e1e" stroke="#1e1e1e" stroke-width="0.25">712</text>
<text x="243.50" y="212.40" font-size="12" text-anchor="start" font-weight="normal" font-style="normal" fill="#1e1e1e" stroke="#1e1e1e" stroke-width="0.25">Intracellular protein transport</text>
<text x="202.00" y="244.70" font-size="12" text-anchor="start" font-weight="normal" font-style="normal" fill="#1e1e1e" stroke="#1e1e1e" stroke-width="0.25">905</text>
<text x="243.50" y="244.70" font-size="12" text-anchor="start" font-weight="normal" font-style="normal" fill="#1e1e1e" stroke="#1e1e1e" stroke-width="0.25">Rhoptry</text>
<text x="243.50" y="259.10" font-size="12" text-anchor="start" font-weight="normal" font-style="normal" fill="#1e1e1e" stroke="#1e1e1e" stroke-width="0.25">Entry into host cell</text>
<text x="243.50" y="273.50" font-size="12" text-anchor="start" font-weight="normal" font-style="normal" fill="#1e1e1e" stroke="#1e1e1e" stroke-width="0.25">Motor activity</text>
<text x="112.80" y="316.70" font-size="12" text-anchor="middle" font-weight="normal" font-style="normal" fill="#1e1e1e" stroke="#1e1e1e" stroke-width="0.25">Polysomal mRNA</text>
<text x="19.00" y="347.20" font-size="12" text-anchor="start" font-weight="normal" font-style="normal" fill="#1e1e1e" stroke="#1e1e1e" stroke-width="0.25">B.1</text>
<text x="19.00" y="381.10" font-size="12" text-anchor="start" font-weight="normal" font-style="normal" fill="#1e1e1e" stroke="#1e1e1e" stroke-width="0.25">B.2</text>
<text x="19.00" y="419.50" font-size="12" text-anchor="start" font-weight="normal" font-style="normal" fill="#1e1e1e" stroke="#1e1e1e" stroke-width="0.25">B.3</text>
<text x="19.00" y="462.00" font-size="12" text-anchor="start" font-weight="normal" font-style="normal" fill="#1e1e1e" stroke="#1e1e1e" stroke-width="0.25">B.4</text>
<text x="19.00" y="515.90" font-size="12" text-anchor="start" font-weight="normal" font-style="normal" fill="#1e1e1e" stroke="#1e1e1e" stroke-width="0.25">B.5</text>
<text x="19.00" y="551.00" font-size="12" text-anchor="start" font-weight="normal" font-style="normal" fill="#1e1e1e" stroke="#1e1e1e" stroke-width="0.25">B.6</text>
<text x="64.50" y="564.80" font-size="12" text-anchor="middle" font-weight="normal" font-style="normal" fill="#1e1e1e" stroke="#1e1e1e" stroke-width="0.25">0h</text>
<text x="111.50" y="564.80" font-size="12" text-anchor="middle" font-weight="normal" font-style="normal" fill="#1e1e1e" stroke="#1e1e1e" stroke-width="0.25">18h</text>
<text x="160.00" y="564.80" font-size="12" text-anchor="middle" font-weight="normal" font-style="normal" fill="#1e1e1e" stroke="#1e1e1e" stroke-width="0.25">36h</text>
<text x="202.00" y="345.20" font-size="12" text-anchor="start" font-weight="normal" font-style="normal" fill="#1e1e1e" stroke="#1e1e1e" stroke-width="0.25">504</text>
<text x="243.50" y="345.20" font-size="12" text-anchor="start" font-weight="normal" font-style="normal" fill="#1e1e1e" stroke="#1e1e1e" stroke-width="0.25">Heme biosynthetic process</text>
<text x="202.00" y="373.30" font-size="12" text-anchor="start" font-weight="normal" font-style="normal" fill="#1e1e1e" stroke="#1e1e1e" stroke-width="0.25">519</text>
<text x="243.50" y="373.30" font-size="12" text-anchor="start" font-weight="normal" font-style="normal" fill="#1e1e1e" stroke="#1e1e1e" stroke-width="0.25">n.a.</text>
<text x="202.00" y="401.80" font-size="12" text-anchor="start" font-weight="normal" font-style="normal" fill="#1e1e1e" stroke="#1e1e1e" stroke-width="0.25">1,063</text>
<text x="243.50" y="401.80" font-size="12" text-anchor="start" font-weight="normal" font-style="normal" fill="#1e1e1e" stroke="#1e1e1e" stroke-width="0.25">Translation</text>
<text x="243.50" y="416.20" font-size="12" text-anchor="start" font-weight="normal" font-style="normal" fill="#1e1e1e" stroke="#1e1e1e" stroke-width="0.25">Ribosome</text>
<text x="243.50" y="430.60" font-size="12" text-anchor="start" font-weight="normal" font-style="normal" fill="#1e1e1e" stroke="#1e1e1e" stroke-width="0.25">Helicase activity</text>
<text x="202.00" y="455.00" font-size="12" text-anchor="start" font-weight="normal" font-style="normal" fill="#1e1e1e" stroke="#1e1e1e" stroke-width="0.25">731</text>
<text x="243.50" y="455.00" font-size="12" text-anchor="start" font-weight="normal" font-style="normal" fill="#1e1e1e" stroke="#1e1e1e" stroke-width="0.25">Proteasome regulatory particle</text>
<text x="243.50" y="469.40" font-size="12" text-anchor="start" font-weight="normal" font-style="normal" fill="#1e1e1e" stroke="#1e1e1e" stroke-width="0.25">Endopeptidase activity</text>
<text x="202.00" y="497.00" font-size="12" text-anchor="start" font-weight="normal" font-style="normal" fill="#1e1e1e" stroke="#1e1e1e" stroke-width="0.25">1,019</text>
<text x="243.50" y="497.00" font-size="12" text-anchor="start" font-weight="normal" font-style="normal" fill="#1e1e1e" stroke="#1e1e1e" stroke-width="0.25">Rhoptry</text>
<text x="243.50" y="511.40" font-size="12" text-anchor="start" font-weight="normal" font-style="normal" fill="#1e1e1e" stroke="#1e1e1e" stroke-width="0.25">Entry into host cell</text>
<text x="243.50" y="525.80" font-size="12" text-anchor="start" font-weight="normal" font-style="normal" fill="#1e1e1e" stroke="#1e1e1e" stroke-width="0.25">Protein kinase activity</text>
<text x="202.00" y="550.80" font-size="12" text-anchor="start" font-weight="normal" font-style="normal" fill="#1e1e1e" stroke="#1e1e1e" stroke-width="0.25">171</text>
<text x="243.50" y="550.80" font-size="12" text-anchor="start" font-weight="normal" font-style="normal" fill="#1e1e1e" stroke="#1e1e1e" stroke-width="0.25">n.a.</text>
<text x="51.50" y="593.80" font-size="12" text-anchor="middle" font-weight="normal" font-style="normal" fill="#1e1e1e" stroke="#1e1e1e" stroke-width="0.25">-1</text>
<text x="84.00" y="593.80" font-size="12" text-anchor="middle" font-weight="normal" font-style="normal" fill="#1e1e1e" stroke="#1e1e1e" stroke-width="0.25">-0.5</text>
<text x="117.00" y="593.80" font-size="12" text-anchor="middle" font-weight="normal" font-style="normal" fill="#1e1e1e" stroke="#1e1e1e" stroke-width="0.25">0</text>
<text x="149.00" y="593.80" font-size="12" text-anchor="middle" font-weight="normal" font-style="normal" fill="#1e1e1e" stroke="#1e1e1e" stroke-width="0.25">0.5</text>
<text x="181.50" y="593.80" font-size="12" text-anchor="middle" font-weight="normal" font-style="normal" fill="#1e1e1e" stroke="#1e1e1e" stroke-width="0.25">1</text>
<text x="535.00" y="593.30" font-size="12" text-anchor="middle" font-weight="normal" font-style="normal" fill="#1e1e1e" stroke="#1e1e1e" stroke-width="0.25">-1</text>
<text x="567.50" y="593.30" font-size="12" text-anchor="middle" font-weight="normal" font-style="normal" fill="#1e1e1e" stroke="#1e1e1e" stroke-width="0.25">-0.5</text>
<text x="600.50" y="593.30" font-size="12" text-anchor="middle" font-weight="normal" font-style="normal" fill="#1e1e1e" stroke="#1e1e1e" stroke-width="0.25">0</text>
<text x="632.00" y="593.30" font-size="12" text-anchor="middle" font-weight="normal" font-style="normal" fill="#1e1e1e" stroke="#1e1e1e" stroke-width="0.25">0.5</text>
<text x="665.00" y="593.30" font-size="12" text-anchor="middle" font-weight="normal" font-style="normal" fill="#1e1e1e" stroke="#1e1e1e" stroke-width="0.25">1</text>
<text x="493.00" y="36.20" font-size="11" text-anchor="start" font-weight="normal" font-style="normal" fill="#1e1e1e" stroke="#1e1e1e" stroke-width="0.25">Polysomal cluster and stage</text>
<text x="415.80" y="49.70" font-size="11" text-anchor="start" font-weight="normal" font-style="normal" fill="#1e1e1e" stroke="#1e1e1e" stroke-width="0.25">Steady-state</text>
<text x="415.80" y="63.70" font-size="11" text-anchor="start" font-weight="normal" font-style="normal" fill="#1e1e1e" stroke="#1e1e1e" stroke-width="0.25">Cluster</text>
<text x="471.00" y="63.70" font-size="11" text-anchor="middle" font-weight="normal" font-style="normal" fill="#1e1e1e" stroke="#1e1e1e" stroke-width="0.25">Stage</text>
<text x="510.25" y="49.70" font-size="11" text-anchor="middle" font-weight="normal" font-style="normal" fill="#1e1e1e" stroke="#1e1e1e" stroke-width="0.25">B.1</text>
<text x="510.25" y="63.70" font-size="11" text-anchor="middle" font-weight="normal" font-style="normal" fill="#1e1e1e" stroke="#1e1e1e" stroke-width="0.25">0</text>
<text x="549.75" y="49.70" font-size="11" text-anchor="middle" font-weight="normal" font-style="normal" fill="#1e1e1e" stroke="#1e1e1e" stroke-width="0.25">B.2</text>
<text x="549.75" y="63.70" font-size="11" text-anchor="middle" font-weight="normal" font-style="normal" fill="#1e1e1e" stroke="#1e1e1e" stroke-width="0.25">18</text>
<text x="589.25" y="49.70" font-size="11" text-anchor="middle" font-weight="normal" font-style="normal" fill="#1e1e1e" stroke="#1e1e1e" stroke-width="0.25">B.3</text>
<text x="589.25" y="63.70" font-size="11" text-anchor="middle" font-weight="normal" font-style="normal" fill="#1e1e1e" stroke="#1e1e1e" stroke-width="0.25">18-(36)</text>
<text x="628.75" y="49.70" font-size="11" text-anchor="middle" font-weight="normal" font-style="normal" fill="#1e1e1e" stroke="#1e1e1e" stroke-width="0.25">B.4</text>
<text x="628.75" y="63.70" font-size="11" text-anchor="middle" font-weight="normal" font-style="normal" fill="#1e1e1e" stroke="#1e1e1e" stroke-width="0.25">(18)-36</text>
<text x="668.25" y="49.70" font-size="11" text-anchor="middle" font-weight="normal" font-style="normal" fill="#1e1e1e" stroke="#1e1e1e" stroke-width="0.25">B.5</text>
<text x="668.25" y="63.70" font-size="11" text-anchor="middle" font-weight="normal" font-style="normal" fill="#1e1e1e" stroke="#1e1e1e" stroke-width="0.25">36</text>
<text x="707.75" y="49.70" font-size="11" text-anchor="middle" font-weight="normal" font-style="normal" fill="#1e1e1e" stroke="#1e1e1e" stroke-width="0.25">B.6</text>
<text x="707.75" y="63.70" font-size="11" text-anchor="middle" font-weight="normal" font-style="normal" fill="#1e1e1e" stroke="#1e1e1e" stroke-width="0.25">36-0</text>
<text x="747.50" y="63.70" font-size="11" text-anchor="middle" font-weight="normal" font-style="normal" fill="#1e1e1e" stroke="#1e1e1e" stroke-width="0.25">Total</text>
<text x="431.80" y="77.30" font-size="11" text-anchor="middle" font-weight="normal" font-style="normal" fill="#1e1e1e" stroke="#1e1e1e" stroke-width="0.25">A.1</text>
<text x="471.30" y="77.30" font-size="11" text-anchor="middle" font-weight="normal" font-style="normal" fill="#1e1e1e" stroke="#1e1e1e" stroke-width="0.25">0</text>
<text x="510.25" y="77.30" font-size="11" text-anchor="middle" font-weight="normal" font-style="normal" fill="#e2eeff" stroke="#e2eeff" stroke-width="0.25">33</text>
<text x="549.75" y="77.30" font-size="11" text-anchor="middle" font-weight="normal" font-style="normal" fill="#1e1e1e" stroke="#1e1e1e" stroke-width="0.25">24</text>
<text x="589.25" y="77.30" font-size="11" text-anchor="middle" font-weight="normal" font-style="normal" fill="#1e1e1e" stroke="#1e1e1e" stroke-width="0.25">24</text>
<text x="628.75" y="77.30" font-size="11" text-anchor="middle" font-weight="normal" font-style="normal" fill="#1e1e1e" stroke="#1e1e1e" stroke-width="0.25">9</text>
<text x="668.25" y="77.30" font-size="11" text-anchor="middle" font-weight="normal" font-style="normal" fill="#1e1e1e" stroke="#1e1e1e" stroke-width="0.25">41</text>
<text x="707.75" y="77.30" font-size="11" text-anchor="middle" font-weight="normal" font-style="normal" fill="#1e1e1e" stroke="#1e1e1e" stroke-width="0.25">8</text>
<text x="747.50" y="77.30" font-size="11" text-anchor="middle" font-weight="normal" font-style="normal" fill="#1e1e1e" stroke="#1e1e1e" stroke-width="0.25">139</text>
<text x="431.80" y="91.00" font-size="11" text-anchor="middle" font-weight="normal" font-style="normal" fill="#1e1e1e" stroke="#1e1e1e" stroke-width="0.25">A.2</text>
<text x="471.30" y="91.00" font-size="11" text-anchor="middle" font-weight="normal" font-style="normal" fill="#1e1e1e" stroke="#1e1e1e" stroke-width="0.25">18</text>
<text x="510.25" y="91.00" font-size="11" text-anchor="middle" font-weight="normal" font-style="normal" fill="#1e1e1e" stroke="#1e1e1e" stroke-width="0.25">125</text>
<text x="549.75" y="91.00" font-size="11" text-anchor="middle" font-weight="normal" font-style="normal" fill="#e2eeff" stroke="#e2eeff" stroke-width="0.25">362</text>
<text x="589.25" y="91.00" font-size="11" text-anchor="middle" font-weight="normal" font-style="normal" fill="#1e1e1e" stroke="#1e1e1e" stroke-width="0.25">457</text>
<text x="628.75" y="91.00" font-size="11" text-anchor="middle" font-weight="normal" font-style="normal" fill="#1e1e1e" stroke="#1e1e1e" stroke-width="0.25">70</text>
<text x="668.25" y="91.00" font-size="11" text-anchor="middle" font-weight="normal" font-style="normal" fill="#1e1e1e" stroke="#1e1e1e" stroke-width="0.25">11</text>
<text x="707.75" y="91.00" font-size="11" text-anchor="middle" font-weight="normal" font-style="normal" fill="#1e1e1e" stroke="#1e1e1e" stroke-width="0.25">7</text>
<text x="747.50" y="91.00" font-size="11" text-anchor="middle" font-weight="normal" font-style="normal" fill="#1e1e1e" stroke="#1e1e1e" stroke-width="0.25">1,032</text>
<text x="431.80" y="104.70" font-size="11" text-anchor="middle" font-weight="normal" font-style="normal" fill="#1e1e1e" stroke="#1e1e1e" stroke-width="0.25">A.3</text>
<text x="471.30" y="104.70" font-size="11" text-anchor="middle" font-weight="normal" font-style="normal" fill="#1e1e1e" stroke="#1e1e1e" stroke-width="0.25">18-(36)</text>
<text x="510.25" y="104.70" font-size="11" text-anchor="middle" font-weight="normal" font-style="normal" fill="#1e1e1e" stroke="#1e1e1e" stroke-width="0.25">106</text>
<text x="549.75" y="104.70" font-size="11" text-anchor="middle" font-weight="normal" font-style="normal" fill="#1e1e1e" stroke="#1e1e1e" stroke-width="0.25">118</text>
<text x="589.25" y="104.70" font-size="11" text-anchor="middle" font-weight="normal" font-style="normal" fill="#e2eeff" stroke="#e2eeff" stroke-width="0.25">515</text>
<text x="628.75" y="104.70" font-size="11" text-anchor="middle" font-weight="normal" font-style="normal" fill="#1e1e1e" stroke="#1e1e1e" stroke-width="0.25">371</text>
<text x="668.25" y="104.70" font-size="11" text-anchor="middle" font-weight="normal" font-style="normal" fill="#1e1e1e" stroke="#1e1e1e" stroke-width="0.25">96</text>
<text x="707.75" y="104.70" font-size="11" text-anchor="middle" font-weight="normal" font-style="normal" fill="#1e1e1e" stroke="#1e1e1e" stroke-width="0.25">13</text>
<text x="747.50" y="104.70" font-size="11" text-anchor="middle" font-weight="normal" font-style="normal" fill="#1e1e1e" stroke="#1e1e1e" stroke-width="0.25">1,219</text>
<text x="431.80" y="118.40" font-size="11" text-anchor="middle" font-weight="normal" font-style="normal" fill="#1e1e1e" stroke="#1e1e1e" stroke-width="0.25">A.4</text>
<text x="471.30" y="118.40" font-size="11" text-anchor="middle" font-weight="normal" font-style="normal" fill="#1e1e1e" stroke="#1e1e1e" stroke-width="0.25">(18)-36</text>
<text x="510.25" y="118.40" font-size="11" text-anchor="middle" font-weight="normal" font-style="normal" fill="#1e1e1e" stroke="#1e1e1e" stroke-width="0.25">72</text>
<text x="549.75" y="118.40" font-size="11" text-anchor="middle" font-weight="normal" font-style="normal" fill="#1e1e1e" stroke="#1e1e1e" stroke-width="0.25">13</text>
<text x="589.25" y="118.40" font-size="11" text-anchor="middle" font-weight="normal" font-style="normal" fill="#1e1e1e" stroke="#1e1e1e" stroke-width="0.25">62</text>
<text x="628.75" y="118.40" font-size="11" text-anchor="middle" font-weight="normal" font-style="normal" fill="#e2eeff" stroke="#e2eeff" stroke-width="0.25">249</text>
<text x="668.25" y="118.40" font-size="11" text-anchor="middle" font-weight="normal" font-style="normal" fill="#1e1e1e" stroke="#1e1e1e" stroke-width="0.25">281</text>
<text x="707.75" y="118.40" font-size="11" text-anchor="middle" font-weight="normal" font-style="normal" fill="#1e1e1e" stroke="#1e1e1e" stroke-width="0.25">35</text>
<text x="747.50" y="118.40" font-size="11" text-anchor="middle" font-weight="normal" font-style="normal" fill="#1e1e1e" stroke="#1e1e1e" stroke-width="0.25">712</text>
<text x="431.80" y="132.10" font-size="11" text-anchor="middle" font-weight="normal" font-style="normal" fill="#1e1e1e" stroke="#1e1e1e" stroke-width="0.25">A.5</text>
<text x="471.30" y="132.10" font-size="11" text-anchor="middle" font-weight="normal" font-style="normal" fill="#1e1e1e" stroke="#1e1e1e" stroke-width="0.25">36</text>
<text x="510.25" y="132.10" font-size="11" text-anchor="middle" font-weight="normal" font-style="normal" fill="#1e1e1e" stroke="#1e1e1e" stroke-width="0.25">168</text>
<text x="549.75" y="132.10" font-size="11" text-anchor="middle" font-weight="normal" font-style="normal" fill="#1e1e1e" stroke="#1e1e1e" stroke-width="0.25">2</text>
<text x="589.25" y="132.10" font-size="11" text-anchor="middle" font-weight="normal" font-style="normal" fill="#1e1e1e" stroke="#1e1e1e" stroke-width="0.25">5</text>
<text x="628.75" y="132.10" font-size="11" text-anchor="middle" font-weight="normal" font-style="normal" fill="#1e1e1e" stroke="#1e1e1e" stroke-width="0.25">32</text>
<text x="668.25" y="132.10" font-size="11" text-anchor="middle" font-weight="normal" font-style="normal" fill="#e2eeff" stroke="#e2eeff" stroke-width="0.25">590</text>
<text x="707.75" y="132.10" font-size="11" text-anchor="middle" font-weight="normal" font-style="normal" fill="#1e1e1e" stroke="#1e1e1e" stroke-width="0.25">108</text>
<text x="747.50" y="132.10" font-size="11" text-anchor="middle" font-weight="normal" font-style="normal" fill="#1e1e1e" stroke="#1e1e1e" stroke-width="0.25">905</text>
<text x="465.50" y="146.20" font-size="11" text-anchor="middle" font-weight="normal" font-style="normal" fill="#1e1e1e" stroke="#1e1e1e" stroke-width="0.25">Total</text>
<text x="510.25" y="146.20" font-size="11" text-anchor="middle" font-weight="normal" font-style="normal" fill="#1e1e1e" stroke="#1e1e1e" stroke-width="0.25">504</text>
<text x="549.75" y="146.20" font-size="11" text-anchor="middle" font-weight="normal" font-style="normal" fill="#1e1e1e" stroke="#1e1e1e" stroke-width="0.25">519</text>
<text x="589.25" y="146.20" font-size="11" text-anchor="middle" font-weight="normal" font-style="normal" fill="#1e1e1e" stroke="#1e1e1e" stroke-width="0.25">1063</text>
<text x="628.75" y="146.20" font-size="11" text-anchor="middle" font-weight="normal" font-style="normal" fill="#1e1e1e" stroke="#1e1e1e" stroke-width="0.25">731</text>
<text x="668.25" y="146.20" font-size="11" text-anchor="middle" font-weight="normal" font-style="normal" fill="#1e1e1e" stroke="#1e1e1e" stroke-width="0.25">1,019</text>
<text x="707.75" y="146.20" font-size="11" text-anchor="middle" font-weight="normal" font-style="normal" fill="#1e1e1e" stroke="#1e1e1e" stroke-width="0.25">171</text>
<text x="747.50" y="146.20" font-size="11" text-anchor="middle" font-weight="normal" font-style="normal" fill="#1e1e1e" stroke="#1e1e1e" stroke-width="0.25">4,007</text>
<text x="512.40" y="190.40" font-size="12" text-anchor="middle" font-weight="normal" font-style="normal" fill="#1e1e1e" stroke="#1e1e1e" stroke-width="0.25">Steady-state mRNA</text>
<text x="690.50" y="189.90" font-size="12" text-anchor="middle" font-weight="normal" font-style="normal" fill="#1e1e1e" stroke="#1e1e1e" stroke-width="0.25">Polysomal mRNA</text>
<text x="450.00" y="557.30" font-size="12" text-anchor="middle" font-weight="normal" font-style="normal" fill="#1e1e1e" stroke="#1e1e1e" stroke-width="0.25">0h</text>
<text x="501.50" y="557.30" font-size="12" text-anchor="middle" font-weight="normal" font-style="normal" fill="#1e1e1e" stroke="#1e1e1e" stroke-width="0.25">18h</text>
<text x="554.00" y="557.30" font-size="12" text-anchor="middle" font-weight="normal" font-style="normal" fill="#1e1e1e" stroke="#1e1e1e" stroke-width="0.25">36h</text>
<text x="637.70" y="557.30" font-size="12" text-anchor="middle" font-weight="normal" font-style="normal" fill="#1e1e1e" stroke="#1e1e1e" stroke-width="0.25">18h</text>
<text x="689.50" y="557.30" font-size="12" text-anchor="middle" font-weight="normal" font-style="normal" fill="#1e1e1e" stroke="#1e1e1e" stroke-width="0.25">36h</text>
<text x="741.50" y="557.30" font-size="12" text-anchor="middle" font-weight="normal" font-style="normal" fill="#1e1e1e" stroke="#1e1e1e" stroke-width="0.25">0h</text>
<text x="686.20" y="593.10" font-size="12" text-anchor="start" font-weight="normal" font-style="normal" fill="#1e1e1e" stroke="#1e1e1e" stroke-width="0.25">Re-invasion</text>
</svg>
</body></html>
